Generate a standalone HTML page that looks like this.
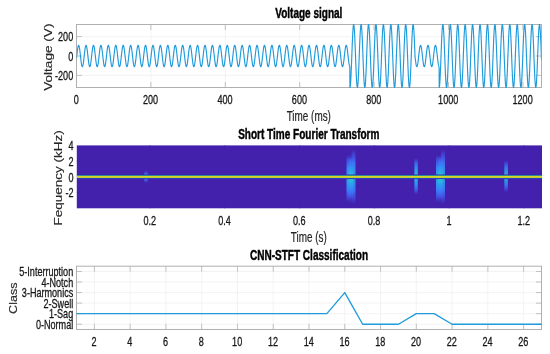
<!DOCTYPE html>
<html><head><meta charset="utf-8"><title>Voltage signal</title>
<style>html,body{margin:0;padding:0;background:#fff;overflow:hidden}svg{display:block}</style></head>
<body>
<svg width="550" height="354" viewBox="0 0 550 354" font-family="'Liberation Sans', sans-serif">
<rect width="550" height="354" fill="#fff"/>
<rect x="76.5" y="24.5" width="465.0" height="63.0" fill="#fff"/>
<line x1="76.50" y1="24.5" x2="76.50" y2="87.5" stroke="#f0f0f0" stroke-width="0.8"/>
<line x1="150.90" y1="24.5" x2="150.90" y2="87.5" stroke="#f0f0f0" stroke-width="0.8"/>
<line x1="225.30" y1="24.5" x2="225.30" y2="87.5" stroke="#f0f0f0" stroke-width="0.8"/>
<line x1="299.70" y1="24.5" x2="299.70" y2="87.5" stroke="#f0f0f0" stroke-width="0.8"/>
<line x1="374.10" y1="24.5" x2="374.10" y2="87.5" stroke="#f0f0f0" stroke-width="0.8"/>
<line x1="448.50" y1="24.5" x2="448.50" y2="87.5" stroke="#f0f0f0" stroke-width="0.8"/>
<line x1="522.90" y1="24.5" x2="522.90" y2="87.5" stroke="#f0f0f0" stroke-width="0.8"/>
<line x1="76.5" y1="75.38" x2="541.5" y2="75.38" stroke="#f0f0f0" stroke-width="0.8"/>
<line x1="76.5" y1="56.00" x2="541.5" y2="56.00" stroke="#f0f0f0" stroke-width="0.8"/>
<line x1="76.5" y1="36.62" x2="541.5" y2="36.62" stroke="#f0f0f0" stroke-width="0.8"/>
<line x1="76.50" y1="87.5" x2="76.50" y2="82.0" stroke="#b0b0b0" stroke-width="0.75"/>
<line x1="76.50" y1="24.5" x2="76.50" y2="30.0" stroke="#b0b0b0" stroke-width="0.75"/>
<line x1="150.90" y1="87.5" x2="150.90" y2="82.0" stroke="#b0b0b0" stroke-width="0.75"/>
<line x1="150.90" y1="24.5" x2="150.90" y2="30.0" stroke="#b0b0b0" stroke-width="0.75"/>
<line x1="225.30" y1="87.5" x2="225.30" y2="82.0" stroke="#b0b0b0" stroke-width="0.75"/>
<line x1="225.30" y1="24.5" x2="225.30" y2="30.0" stroke="#b0b0b0" stroke-width="0.75"/>
<line x1="299.70" y1="87.5" x2="299.70" y2="82.0" stroke="#b0b0b0" stroke-width="0.75"/>
<line x1="299.70" y1="24.5" x2="299.70" y2="30.0" stroke="#b0b0b0" stroke-width="0.75"/>
<line x1="374.10" y1="87.5" x2="374.10" y2="82.0" stroke="#b0b0b0" stroke-width="0.75"/>
<line x1="374.10" y1="24.5" x2="374.10" y2="30.0" stroke="#b0b0b0" stroke-width="0.75"/>
<line x1="448.50" y1="87.5" x2="448.50" y2="82.0" stroke="#b0b0b0" stroke-width="0.75"/>
<line x1="448.50" y1="24.5" x2="448.50" y2="30.0" stroke="#b0b0b0" stroke-width="0.75"/>
<line x1="522.90" y1="87.5" x2="522.90" y2="82.0" stroke="#b0b0b0" stroke-width="0.75"/>
<line x1="522.90" y1="24.5" x2="522.90" y2="30.0" stroke="#b0b0b0" stroke-width="0.75"/>
<line x1="76.5" y1="75.38" x2="82.0" y2="75.38" stroke="#b0b0b0" stroke-width="0.75"/>
<line x1="541.5" y1="75.38" x2="536.0" y2="75.38" stroke="#b0b0b0" stroke-width="0.75"/>
<line x1="76.5" y1="56.00" x2="82.0" y2="56.00" stroke="#b0b0b0" stroke-width="0.75"/>
<line x1="541.5" y1="56.00" x2="536.0" y2="56.00" stroke="#b0b0b0" stroke-width="0.75"/>
<line x1="76.5" y1="36.62" x2="82.0" y2="36.62" stroke="#b0b0b0" stroke-width="0.75"/>
<line x1="541.5" y1="36.62" x2="536.0" y2="36.62" stroke="#b0b0b0" stroke-width="0.75"/>
<rect x="76.5" y="24.5" width="465.0" height="63.0" fill="none" stroke="#b0b0b0" stroke-width="1"/>
<clipPath id="c1"><rect x="76.5" y="24.0" width="465.0" height="64.0"/></clipPath>
<polyline clip-path="url(#c1)" points="76.50,58.33 76.59,57.50 76.69,56.67 76.78,55.83 76.87,55.00 76.97,54.17 77.06,53.35 77.15,52.54 77.24,51.76 77.34,51.01 77.43,50.28 77.52,49.59 77.62,48.94 77.71,48.34 77.80,47.78 77.89,47.27 77.99,46.82 78.08,46.42 78.17,46.08 78.27,45.81 78.36,45.59 78.45,45.44 78.55,45.36 78.64,45.34 78.73,45.39 78.83,45.50 78.92,45.68 79.01,45.92 79.10,46.22 79.20,46.59 79.29,47.01 79.38,47.49 79.48,48.02 79.57,48.60 79.66,49.22 79.75,49.89 79.85,50.59 79.94,51.33 80.03,52.10 80.13,52.89 80.22,53.70 80.31,54.52 80.41,55.36 80.50,56.20 80.59,57.03 80.69,57.86 80.78,58.68 80.87,59.48 80.96,60.26 81.06,61.02 81.15,61.74 81.24,62.43 81.34,63.08 81.43,63.68 81.52,64.24 81.61,64.74 81.71,65.20 81.80,65.59 81.89,65.93 81.99,66.20 82.08,66.41 82.17,66.56 82.27,66.64 82.36,66.66 82.45,66.61 82.55,66.50 82.64,66.32 82.73,66.07 82.82,65.77 82.92,65.40 83.01,64.98 83.10,64.50 83.20,63.96 83.29,63.38 83.38,62.76 83.47,62.09 83.57,61.38 83.66,60.64 83.75,59.87 83.85,59.08 83.94,58.27 84.03,57.45 84.13,56.61 84.22,55.78 84.31,54.94 84.41,54.11 84.50,53.29 84.59,52.49 84.68,51.71 84.78,50.96 84.87,50.23 84.96,49.55 85.06,48.90 85.15,48.30 85.24,47.74 85.33,47.24 85.43,46.79 85.52,46.40 85.61,46.06 85.71,45.79 85.80,45.58 85.89,45.44 85.99,45.36 86.08,45.34 86.17,45.39 86.27,45.51 86.36,45.69 86.45,45.94 86.54,46.25 86.64,46.61 86.73,47.04 86.82,47.52 86.92,48.05 87.01,48.64 87.10,49.27 87.19,49.94 87.29,50.64 87.38,51.38 87.47,52.15 87.57,52.94 87.66,53.76 87.75,54.58 87.85,55.42 87.94,56.25 88.03,57.09 88.12,57.92 88.22,58.74 88.31,59.54 88.40,60.32 88.50,61.07 88.59,61.79 88.68,62.47 88.78,63.12 88.87,63.72 88.96,64.27 89.06,64.78 89.15,65.22 89.24,65.62 89.33,65.95 89.43,66.22 89.52,66.43 89.61,66.57 89.71,66.65 89.80,66.66 89.89,66.60 89.98,66.48 90.08,66.30 90.17,66.05 90.26,65.74 90.36,65.37 90.45,64.95 90.54,64.46 90.64,63.93 90.73,63.34 90.82,62.71 90.91,62.04 91.01,61.33 91.10,60.59 91.19,59.82 91.29,59.03 91.38,58.22 91.47,57.39 91.57,56.56 91.66,55.72 91.75,54.88 91.84,54.05 91.94,53.24 92.03,52.44 92.12,51.66 92.22,50.91 92.31,50.19 92.40,49.50 92.50,48.86 92.59,48.26 92.68,47.71 92.78,47.21 92.87,46.76 92.96,46.37 93.05,46.04 93.15,45.77 93.24,45.57 93.33,45.43 93.43,45.35 93.52,45.34 93.61,45.40 93.70,45.52 93.80,45.71 93.89,45.96 93.98,46.27 94.08,46.64 94.17,47.07 94.26,47.56 94.36,48.09 94.45,48.68 94.54,49.31 94.64,49.98 94.73,50.69 94.82,51.43 94.91,52.20 95.01,53.00 95.10,53.81 95.19,54.64 95.29,55.47 95.38,56.31 95.47,57.15 95.56,57.97 95.66,58.79 95.75,59.59 95.84,60.37 95.94,61.12 96.03,61.84 96.12,62.52 96.22,63.16 96.31,63.76 96.40,64.31 96.50,64.81 96.59,65.25 96.68,65.64 96.77,65.97 96.87,66.23 96.96,66.44 97.05,66.58 97.15,66.65 97.24,66.66 97.33,66.60 97.42,66.47 97.52,66.29 97.61,66.03 97.70,65.72 97.80,65.35 97.89,64.91 97.98,64.43 98.08,63.89 98.17,63.30 98.26,62.67 98.36,61.99 98.45,61.28 98.54,60.54 98.63,59.77 98.73,58.97 98.82,58.16 98.91,57.33 99.01,56.50 99.10,55.66 99.19,54.83 99.28,54.00 99.38,53.18 99.47,52.38 99.56,51.61 99.66,50.86 99.75,50.14 99.84,49.46 99.94,48.82 100.03,48.22 100.12,47.67 100.22,47.18 100.31,46.73 100.40,46.35 100.49,46.02 100.59,45.76 100.68,45.56 100.77,45.42 100.87,45.35 100.96,45.34 101.05,45.40 101.14,45.53 101.24,45.72 101.33,45.98 101.42,46.29 101.52,46.67 101.61,47.10 101.70,47.59 101.80,48.13 101.89,48.72 101.98,49.35 102.08,50.03 102.17,50.74 102.26,51.49 102.35,52.26 102.45,53.05 102.54,53.87 102.63,54.69 102.73,55.53 102.82,56.37 102.91,57.20 103.00,58.03 103.10,58.85 103.19,59.64 103.28,60.42 103.38,61.17 103.47,61.88 103.56,62.56 103.66,63.20 103.75,63.80 103.84,64.35 103.94,64.84 104.03,65.28 104.12,65.66 104.21,65.99 104.31,66.25 104.40,66.45 104.49,66.58 104.59,66.65 104.68,66.65 104.77,66.59 104.86,66.46 104.96,66.27 105.05,66.01 105.14,65.70 105.24,65.32 105.33,64.88 105.42,64.39 105.52,63.85 105.61,63.26 105.70,62.62 105.80,61.95 105.89,61.23 105.98,60.49 106.07,59.72 106.17,58.92 106.26,58.10 106.35,57.28 106.45,56.44 106.54,55.60 106.63,54.77 106.72,53.94 106.82,53.13 106.91,52.33 107.00,51.55 107.10,50.81 107.19,50.09 107.28,49.41 107.38,48.78 107.47,48.18 107.56,47.64 107.66,47.14 107.75,46.70 107.84,46.32 107.93,46.00 108.03,45.74 108.12,45.55 108.21,45.41 108.31,45.35 108.40,45.35 108.49,45.41 108.59,45.54 108.68,45.74 108.77,46.00 108.86,46.32 108.96,46.70 109.05,47.13 109.14,47.63 109.24,48.17 109.33,48.76 109.42,49.40 109.52,50.08 109.61,50.79 109.70,51.54 109.79,52.31 109.89,53.11 109.98,53.92 110.07,54.75 110.17,55.59 110.26,56.42 110.35,57.26 110.44,58.09 110.54,58.90 110.63,59.70 110.72,60.47 110.82,61.22 110.91,61.93 111.00,62.61 111.10,63.25 111.19,63.84 111.28,64.38 111.38,64.87 111.47,65.31 111.56,65.69 111.65,66.01 111.75,66.27 111.84,66.46 111.93,66.59 112.03,66.65 112.12,66.65 112.21,66.59 112.31,66.45 112.40,66.26 112.49,65.99 112.58,65.67 112.68,65.29 112.77,64.85 112.86,64.36 112.96,63.81 113.05,63.22 113.14,62.58 113.23,61.90 113.33,61.18 113.42,60.44 113.51,59.66 113.61,58.86 113.70,58.05 113.79,57.22 113.89,56.39 113.98,55.55 114.07,54.71 114.16,53.89 114.26,53.07 114.35,52.28 114.44,51.50 114.54,50.76 114.63,50.04 114.72,49.37 114.82,48.73 114.91,48.14 115.00,47.60 115.09,47.11 115.19,46.68 115.28,46.30 115.37,45.98 115.47,45.73 115.56,45.53 115.65,45.41 115.75,45.34 115.84,45.35 115.93,45.42 116.03,45.55 116.12,45.75 116.21,46.02 116.30,46.34 116.40,46.72 116.49,47.16 116.58,47.66 116.68,48.21 116.77,48.80 116.86,49.44 116.95,50.12 117.05,50.84 117.14,51.59 117.23,52.37 117.33,53.16 117.42,53.98 117.51,54.81 117.61,55.64 117.70,56.48 117.79,57.32 117.88,58.14 117.98,58.96 118.07,59.75 118.16,60.52 118.26,61.27 118.35,61.98 118.44,62.65 118.54,63.29 118.63,63.88 118.72,64.42 118.81,64.90 118.91,65.34 119.00,65.71 119.09,66.03 119.19,66.28 119.28,66.47 119.37,66.60 119.47,66.66 119.56,66.65 119.65,66.58 119.75,66.44 119.84,66.24 119.93,65.97 120.02,65.65 120.12,65.26 120.21,64.82 120.30,64.32 120.40,63.77 120.49,63.18 120.58,62.53 120.67,61.85 120.77,61.13 120.86,60.38 120.95,59.61 121.05,58.81 121.14,57.99 121.23,57.16 121.33,56.33 121.42,55.49 121.51,54.66 121.61,53.83 121.70,53.02 121.79,52.22 121.88,51.45 121.98,50.71 122.07,50.00 122.16,49.32 122.26,48.69 122.35,48.10 122.44,47.57 122.53,47.08 122.63,46.65 122.72,46.28 122.81,45.96 122.91,45.71 123.00,45.52 123.09,45.40 123.19,45.34 123.28,45.35 123.37,45.43 123.47,45.56 123.56,45.77 123.65,46.04 123.74,46.36 123.84,46.75 123.93,47.20 124.02,47.70 124.12,48.25 124.21,48.85 124.30,49.49 124.39,50.17 124.49,50.89 124.58,51.64 124.67,52.42 124.77,53.22 124.86,54.04 124.95,54.86 125.05,55.70 125.14,56.54 125.23,57.37 125.32,58.20 125.42,59.01 125.51,59.80 125.60,60.57 125.70,61.32 125.79,62.03 125.88,62.70 125.98,63.33 126.07,63.91 126.16,64.45 126.25,64.94 126.35,65.36 126.44,65.74 126.53,66.05 126.63,66.30 126.72,66.48 126.81,66.60 126.91,66.66 127.00,66.65 127.09,66.57 127.19,66.43 127.28,66.22 127.37,65.95 127.46,65.62 127.56,65.23 127.65,64.79 127.74,64.29 127.84,63.73 127.93,63.13 128.02,62.49 128.12,61.80 128.21,61.08 128.30,60.33 128.39,59.55 128.49,58.75 128.58,57.94 128.67,57.11 128.77,56.27 128.86,55.43 128.95,54.60 129.05,53.77 129.14,52.96 129.23,52.17 129.32,51.40 129.42,50.66 129.51,49.95 129.60,49.28 129.70,48.65 129.79,48.07 129.88,47.53 129.97,47.05 130.07,46.62 130.16,46.25 130.25,45.94 130.35,45.70 130.44,45.51 130.53,45.39 130.63,45.34 130.72,45.35 130.81,45.43 130.91,45.58 131.00,45.78 131.09,46.06 131.18,46.39 131.28,46.78 131.37,47.23 131.46,47.73 131.56,48.29 131.65,48.89 131.74,49.53 131.84,50.22 131.93,50.94 132.02,51.69 132.11,52.47 132.21,53.27 132.30,54.09 132.39,54.92 132.49,55.76 132.58,56.59 132.67,57.43 132.76,58.25 132.86,59.07 132.95,59.86 133.04,60.63 133.14,61.37 133.23,62.07 133.32,62.74 133.42,63.37 133.51,63.95 133.60,64.49 133.69,64.97 133.79,65.39 133.88,65.76 133.97,66.07 134.07,66.31 134.16,66.49 134.25,66.61 134.35,66.66 134.44,66.64 134.53,66.56 134.62,66.42 134.72,66.21 134.81,65.93 134.90,65.60 135.00,65.21 135.09,64.75 135.18,64.25 135.28,63.69 135.37,63.09 135.46,62.44 135.56,61.76 135.65,61.03 135.74,60.28 135.83,59.50 135.93,58.70 136.02,57.88 136.11,57.05 136.21,56.21 136.30,55.38 136.39,54.54 136.49,53.72 136.58,52.91 136.67,52.12 136.76,51.35 136.86,50.61 136.95,49.90 137.04,49.24 137.14,48.61 137.23,48.03 137.32,47.50 137.41,47.02 137.51,46.60 137.60,46.23 137.69,45.92 137.79,45.68 137.88,45.50 137.97,45.39 138.07,45.34 138.16,45.36 138.25,45.44 138.34,45.59 138.44,45.80 138.53,46.08 138.62,46.41 138.72,46.81 138.81,47.26 138.90,47.77 139.00,48.33 139.09,48.93 139.18,49.58 139.28,50.27 139.37,50.99 139.46,51.75 139.55,52.53 139.65,53.33 139.74,54.15 139.83,54.98 139.93,55.81 140.02,56.65 140.11,57.49 140.21,58.31 140.30,59.12 140.39,59.91 140.48,60.68 140.58,61.42 140.67,62.12 140.76,62.79 140.86,63.41 140.95,63.99 141.04,64.52 141.13,65.00 141.23,65.42 141.32,65.78 141.41,66.08 141.51,66.32 141.60,66.50 141.69,66.61 141.79,66.66 141.88,66.64 141.97,66.56 142.06,66.41 142.16,66.19 142.25,65.91 142.34,65.57 142.44,65.18 142.53,64.72 142.62,64.21 142.72,63.65 142.81,63.05 142.90,62.40 143.00,61.71 143.09,60.98 143.18,60.23 143.27,59.45 143.37,58.64 143.46,57.82 143.55,56.99 143.65,56.16 143.74,55.32 143.83,54.49 143.93,53.66 144.02,52.85 144.11,52.06 144.20,51.30 144.30,50.56 144.39,49.86 144.48,49.19 144.58,48.57 144.67,47.99 144.76,47.46 144.85,46.99 144.95,46.57 145.04,46.21 145.13,45.91 145.23,45.67 145.32,45.49 145.41,45.38 145.51,45.34 145.60,45.36 145.69,45.45 145.78,45.60 145.88,45.82 145.97,46.10 146.06,46.44 146.16,46.84 146.25,47.29 146.34,47.80 146.44,48.37 146.53,48.97 146.62,49.62 146.72,50.32 146.81,51.04 146.90,51.80 146.99,52.58 147.09,53.38 147.18,54.20 147.27,55.03 147.37,55.87 147.46,56.71 147.55,57.54 147.64,58.37 147.74,59.17 147.83,59.96 147.92,60.73 148.02,61.46 148.11,62.17 148.20,62.83 148.30,63.45 148.39,64.03 148.48,64.55 148.57,65.03 148.67,65.44 148.76,65.80 148.85,66.10 148.95,66.34 149.04,66.51 149.13,66.62 149.23,66.66 149.32,66.64 149.41,66.55 149.50,66.39 149.60,66.17 149.69,65.89 149.78,65.55 149.88,65.15 149.97,64.69 150.06,64.18 150.16,63.61 150.25,63.01 150.34,62.35 150.44,61.66 150.53,60.93 150.62,60.18 150.71,59.39 150.81,58.59 150.90,57.77 150.99,56.94 151.09,56.10 151.18,55.26 151.27,54.43 151.37,53.61 151.46,52.80 151.55,52.01 151.64,51.25 151.74,50.51 151.83,49.81 151.92,49.15 152.02,48.53 152.11,47.95 152.20,47.43 152.30,46.96 152.39,46.54 152.48,46.18 152.57,45.89 152.67,45.65 152.76,45.48 152.85,45.38 152.95,45.34 153.04,45.36 153.13,45.46 153.23,45.61 153.32,45.83 153.41,46.12 153.50,46.46 153.60,46.87 153.69,47.33 153.78,47.84 153.88,48.41 153.97,49.02 154.06,49.67 154.16,50.36 154.25,51.09 154.34,51.85 154.43,52.63 154.53,53.44 154.62,54.26 154.71,55.09 154.81,55.93 154.90,56.77 154.99,57.60 155.09,58.42 155.18,59.23 155.27,60.02 155.36,60.78 155.46,61.51 155.55,62.21 155.64,62.87 155.74,63.49 155.83,64.07 155.92,64.59 156.01,65.06 156.11,65.47 156.20,65.83 156.29,66.12 156.39,66.35 156.48,66.52 156.57,66.62 156.67,66.66 156.76,66.63 156.85,66.54 156.94,66.38 157.04,66.16 157.13,65.87 157.22,65.52 157.32,65.12 157.41,64.66 157.50,64.14 157.60,63.57 157.69,62.96 157.78,62.31 157.88,61.61 157.97,60.88 158.06,60.12 158.15,59.34 158.25,58.53 158.34,57.71 158.43,56.88 158.53,56.04 158.62,55.21 158.71,54.37 158.81,53.55 158.90,52.74 158.99,51.96 159.08,51.19 159.18,50.46 159.27,49.76 159.36,49.10 159.46,48.49 159.55,47.92 159.64,47.40 159.74,46.93 159.83,46.52 159.92,46.16 160.01,45.87 160.11,45.64 160.20,45.47 160.29,45.37 160.39,45.34 160.48,45.37 160.57,45.47 160.66,45.63 160.76,45.85 160.85,46.14 160.94,46.49 161.04,46.90 161.13,47.36 161.22,47.88 161.32,48.45 161.41,49.06 161.50,49.72 161.59,50.41 161.69,51.14 161.78,51.90 161.87,52.69 161.97,53.49 162.06,54.32 162.15,55.15 162.25,55.98 162.34,56.82 162.43,57.65 162.53,58.48 162.62,59.28 162.71,60.07 162.80,60.83 162.90,61.56 162.99,62.26 163.08,62.92 163.18,63.53 163.27,64.10 163.36,64.62 163.45,65.09 163.55,65.50 163.64,65.85 163.73,66.14 163.83,66.37 163.92,66.53 164.01,66.63 164.11,66.66 164.20,66.63 164.29,66.53 164.38,66.37 164.48,66.14 164.57,65.85 164.66,65.50 164.76,65.09 164.85,64.62 164.94,64.10 165.04,63.53 165.13,62.92 165.22,62.26 165.31,61.56 165.41,60.83 165.50,60.07 165.59,59.28 165.69,58.48 165.78,57.66 165.87,56.82 165.97,55.99 166.06,55.15 166.15,54.32 166.25,53.50 166.34,52.69 166.43,51.90 166.52,51.14 166.62,50.41 166.71,49.72 166.80,49.06 166.90,48.45 166.99,47.88 167.08,47.36 167.18,46.90 167.27,46.49 167.36,46.14 167.45,45.85 167.55,45.63 167.64,45.47 167.73,45.37 167.83,45.34 167.92,45.37 168.01,45.47 168.11,45.64 168.20,45.87 168.29,46.16 168.38,46.52 168.48,46.93 168.57,47.39 168.66,47.92 168.76,48.49 168.85,49.10 168.94,49.76 169.04,50.46 169.13,51.19 169.22,51.96 169.31,52.74 169.41,53.55 169.50,54.37 169.59,55.20 169.69,56.04 169.78,56.88 169.87,57.71 169.97,58.53 170.06,59.34 170.15,60.12 170.24,60.88 170.34,61.61 170.43,62.31 170.52,62.96 170.62,63.57 170.71,64.14 170.80,64.65 170.90,65.12 170.99,65.52 171.08,65.87 171.17,66.16 171.27,66.38 171.36,66.54 171.45,66.63 171.55,66.66 171.64,66.62 171.73,66.52 171.82,66.35 171.92,66.12 172.01,65.83 172.10,65.47 172.20,65.06 172.29,64.59 172.38,64.07 172.48,63.49 172.57,62.88 172.66,62.21 172.75,61.51 172.85,60.78 172.94,60.02 173.03,59.23 173.13,58.42 173.22,57.60 173.31,56.77 173.41,55.93 173.50,55.09 173.59,54.26 173.69,53.44 173.78,52.64 173.87,51.85 173.96,51.09 174.06,50.37 174.15,49.67 174.24,49.02 174.34,48.41 174.43,47.84 174.52,47.33 174.62,46.87 174.71,46.46 174.80,46.12 174.89,45.84 174.99,45.61 175.08,45.46 175.17,45.37 175.27,45.34 175.36,45.38 175.45,45.48 175.55,45.65 175.64,45.89 175.73,46.18 175.82,46.54 175.92,46.96 176.01,47.43 176.10,47.95 176.20,48.53 176.29,49.15 176.38,49.81 176.47,50.51 176.57,51.24 176.66,52.01 176.75,52.80 176.85,53.61 176.94,54.43 177.03,55.26 177.13,56.10 177.22,56.94 177.31,57.77 177.41,58.59 177.50,59.39 177.59,60.17 177.68,60.93 177.78,61.66 177.87,62.35 177.96,63.00 178.06,63.61 178.15,64.18 178.24,64.69 178.33,65.15 178.43,65.55 178.52,65.89 178.61,66.17 178.71,66.39 178.80,66.55 178.89,66.64 178.99,66.66 179.08,66.62 179.17,66.51 179.26,66.34 179.36,66.10 179.45,65.80 179.54,65.45 179.64,65.03 179.73,64.55 179.82,64.03 179.92,63.45 180.01,62.83 180.10,62.17 180.19,61.47 180.29,60.73 180.38,59.97 180.47,59.18 180.57,58.37 180.66,57.54 180.75,56.71 180.85,55.87 180.94,55.04 181.03,54.21 181.12,53.39 181.22,52.58 181.31,51.80 181.40,51.04 181.50,50.32 181.59,49.63 181.68,48.97 181.78,48.37 181.87,47.81 181.96,47.30 182.06,46.84 182.15,46.44 182.24,46.10 182.33,45.82 182.43,45.60 182.52,45.45 182.61,45.36 182.71,45.34 182.80,45.38 182.89,45.49 182.99,45.67 183.08,45.91 183.17,46.21 183.26,46.57 183.36,46.99 183.45,47.46 183.54,47.99 183.64,48.57 183.73,49.19 183.82,49.86 183.92,50.56 184.01,51.30 184.10,52.06 184.19,52.85 184.29,53.66 184.38,54.48 184.47,55.32 184.57,56.16 184.66,56.99 184.75,57.82 184.84,58.64 184.94,59.45 185.03,60.23 185.12,60.98 185.22,61.71 185.31,62.40 185.40,63.05 185.50,63.65 185.59,64.21 185.68,64.72 185.77,65.18 185.87,65.57 185.96,65.91 186.05,66.19 186.15,66.40 186.24,66.56 186.33,66.64 186.43,66.66 186.52,66.61 186.61,66.50 186.70,66.33 186.80,66.08 186.89,65.78 186.98,65.42 187.08,65.00 187.17,64.52 187.26,63.99 187.36,63.41 187.45,62.79 187.54,62.12 187.63,61.42 187.73,60.68 187.82,59.91 187.91,59.12 188.01,58.31 188.10,57.49 188.19,56.65 188.29,55.82 188.38,54.98 188.47,54.15 188.56,53.33 188.66,52.53 188.75,51.75 188.84,50.99 188.94,50.27 189.03,49.58 189.12,48.93 189.22,48.33 189.31,47.77 189.40,47.26 189.50,46.81 189.59,46.41 189.68,46.08 189.77,45.80 189.87,45.59 189.96,45.44 190.05,45.36 190.15,45.34 190.24,45.39 190.33,45.50 190.43,45.68 190.52,45.92 190.61,46.23 190.70,46.59 190.80,47.02 190.89,47.50 190.98,48.03 191.08,48.61 191.17,49.23 191.26,49.90 191.36,50.61 191.45,51.35 191.54,52.11 191.63,52.91 191.73,53.72 191.82,54.54 191.91,55.38 192.01,56.21 192.10,57.05 192.19,57.88 192.28,58.70 192.38,59.50 192.47,60.28 192.56,61.03 192.66,61.76 192.75,62.44 192.84,63.09 192.94,63.69 193.03,64.25 193.12,64.75 193.22,65.20 193.31,65.60 193.40,65.93 193.49,66.21 193.59,66.42 193.68,66.56 193.77,66.64 193.87,66.66 193.96,66.61 194.05,66.49 194.14,66.31 194.24,66.07 194.33,65.76 194.42,65.39 194.52,64.97 194.61,64.49 194.70,63.95 194.80,63.37 194.89,62.74 194.98,62.07 195.07,61.37 195.17,60.63 195.26,59.86 195.35,59.07 195.45,58.26 195.54,57.43 195.63,56.60 195.73,55.76 195.82,54.92 195.91,54.09 196.00,53.28 196.10,52.47 196.19,51.69 196.28,50.94 196.38,50.22 196.47,49.54 196.56,48.89 196.66,48.29 196.75,47.73 196.84,47.23 196.94,46.78 197.03,46.39 197.12,46.06 197.21,45.79 197.31,45.58 197.40,45.43 197.49,45.35 197.59,45.34 197.68,45.39 197.77,45.51 197.87,45.70 197.96,45.94 198.05,46.25 198.14,46.62 198.24,47.05 198.33,47.53 198.42,48.07 198.52,48.65 198.61,49.28 198.70,49.95 198.80,50.66 198.89,51.40 198.98,52.17 199.07,52.96 199.17,53.77 199.26,54.60 199.35,55.43 199.45,56.27 199.54,57.11 199.63,57.94 199.73,58.75 199.82,59.55 199.91,60.33 200.00,61.08 200.10,61.80 200.19,62.49 200.28,63.13 200.38,63.73 200.47,64.28 200.56,64.79 200.66,65.23 200.75,65.62 200.84,65.95 200.93,66.22 201.03,66.43 201.12,66.57 201.21,66.65 201.31,66.66 201.40,66.60 201.49,66.48 201.59,66.30 201.68,66.05 201.77,65.74 201.86,65.37 201.96,64.94 202.05,64.45 202.14,63.92 202.24,63.33 202.33,62.70 202.42,62.03 202.52,61.32 202.61,60.58 202.70,59.81 202.79,59.01 202.89,58.20 202.98,57.37 203.07,56.54 203.17,55.70 203.26,54.87 203.35,54.04 203.44,53.22 203.54,52.42 203.63,51.64 203.72,50.89 203.82,50.17 203.91,49.49 204.00,48.85 204.10,48.25 204.19,47.70 204.28,47.20 204.38,46.75 204.47,46.36 204.56,46.04 204.65,45.77 204.75,45.56 204.84,45.43 204.93,45.35 205.03,45.34 205.12,45.40 205.21,45.52 205.31,45.71 205.40,45.96 205.49,46.28 205.58,46.65 205.68,47.08 205.77,47.57 205.86,48.10 205.96,48.69 206.05,49.32 206.14,50.00 206.24,50.71 206.33,51.45 206.42,52.22 206.51,53.02 206.61,53.83 206.70,54.65 206.79,55.49 206.89,56.33 206.98,57.16 207.07,57.99 207.17,58.81 207.26,59.61 207.35,60.38 207.44,61.13 207.54,61.85 207.63,62.53 207.72,63.17 207.82,63.77 207.91,64.32 208.00,64.82 208.09,65.26 208.19,65.65 208.28,65.97 208.37,66.24 208.47,66.44 208.56,66.58 208.65,66.65 208.75,66.66 208.84,66.60 208.93,66.47 209.02,66.28 209.12,66.03 209.21,65.71 209.30,65.34 209.40,64.90 209.49,64.42 209.58,63.88 209.68,63.29 209.77,62.66 209.86,61.98 209.95,61.27 210.05,60.52 210.14,59.75 210.23,58.96 210.33,58.14 210.42,57.32 210.51,56.48 210.61,55.64 210.70,54.81 210.79,53.98 210.88,53.16 210.98,52.37 211.07,51.59 211.16,50.84 211.26,50.13 211.35,49.44 211.44,48.80 211.54,48.21 211.63,47.66 211.72,47.17 211.81,46.72 211.91,46.34 212.00,46.02 212.09,45.75 212.19,45.55 212.28,45.42 212.37,45.35 212.47,45.34 212.56,45.41 212.65,45.53 212.75,45.73 212.84,45.98 212.93,46.30 213.02,46.68 213.12,47.11 213.21,47.60 213.30,48.14 213.40,48.73 213.49,49.37 213.58,50.04 213.67,50.76 213.77,51.50 213.86,52.27 213.95,53.07 214.05,53.88 214.14,54.71 214.23,55.55 214.33,56.38 214.42,57.22 214.51,58.05 214.60,58.86 214.70,59.66 214.79,60.44 214.88,61.18 214.98,61.90 215.07,62.58 215.16,63.22 215.26,63.81 215.35,64.36 215.44,64.85 215.53,65.29 215.63,65.67 215.72,65.99 215.81,66.25 215.91,66.45 216.00,66.59 216.09,66.65 216.19,66.65 216.28,66.59 216.37,66.46 216.47,66.27 216.56,66.01 216.65,65.69 216.74,65.31 216.84,64.87 216.93,64.38 217.02,63.84 217.12,63.25 217.21,62.61 217.30,61.93 217.40,61.22 217.49,60.47 217.58,59.70 217.67,58.90 217.77,58.09 217.86,57.26 217.95,56.43 218.05,55.59 218.14,54.75 218.23,53.92 218.32,53.11 218.42,52.31 218.51,51.54 218.60,50.79 218.70,50.08 218.79,49.40 218.88,48.76 218.98,48.17 219.07,47.63 219.16,47.13 219.25,46.70 219.35,46.32 219.44,46.00 219.53,45.74 219.63,45.54 219.72,45.41 219.81,45.35 219.91,45.35 220.00,45.41 220.09,45.55 220.19,45.74 220.28,46.00 220.37,46.32 220.46,46.70 220.56,47.14 220.65,47.64 220.74,48.18 220.84,48.77 220.93,49.41 221.02,50.09 221.12,50.81 221.21,51.55 221.30,52.33 221.39,53.12 221.49,53.94 221.58,54.77 221.67,55.60 221.77,56.44 221.86,57.28 221.95,58.10 222.04,58.92 222.14,59.71 222.23,60.49 222.32,61.23 222.42,61.95 222.51,62.62 222.60,63.26 222.70,63.85 222.79,64.39 222.88,64.88 222.97,65.32 223.07,65.70 223.16,66.01 223.25,66.27 223.35,66.46 223.44,66.59 223.53,66.65 223.63,66.65 223.72,66.58 223.81,66.45 223.91,66.25 224.00,65.99 224.09,65.67 224.18,65.28 224.28,64.84 224.37,64.35 224.46,63.80 224.56,63.21 224.65,62.57 224.74,61.89 224.84,61.17 224.93,60.42 225.02,59.65 225.11,58.85 225.21,58.03 225.30,57.20 225.39,56.37 225.49,55.53 225.58,54.70 225.67,53.87 225.77,53.06 225.86,52.26 225.95,51.49 226.04,50.74 226.14,50.03 226.23,49.36 226.32,48.72 226.42,48.13 226.51,47.59 226.60,47.10 226.69,46.67 226.79,46.29 226.88,45.98 226.97,45.72 227.07,45.53 227.16,45.41 227.25,45.34 227.35,45.35 227.44,45.42 227.53,45.56 227.62,45.76 227.72,46.02 227.81,46.35 227.90,46.73 228.00,47.17 228.09,47.67 228.18,48.22 228.28,48.82 228.37,49.46 228.46,50.14 228.56,50.86 228.65,51.60 228.74,52.38 228.83,53.18 228.93,54.00 229.02,54.82 229.11,55.66 229.21,56.50 229.30,57.33 229.39,58.16 229.49,58.97 229.58,59.77 229.67,60.54 229.76,61.28 229.86,61.99 229.95,62.67 230.04,63.30 230.14,63.89 230.23,64.43 230.32,64.91 230.42,65.35 230.51,65.72 230.60,66.03 230.69,66.29 230.79,66.47 230.88,66.60 230.97,66.66 231.07,66.65 231.16,66.58 231.25,66.44 231.34,66.23 231.44,65.97 231.53,65.64 231.62,65.25 231.72,64.81 231.81,64.31 231.90,63.76 232.00,63.16 232.09,62.52 232.18,61.84 232.28,61.12 232.37,60.37 232.46,59.59 232.55,58.79 232.65,57.98 232.74,57.15 232.83,56.31 232.93,55.47 233.02,54.64 233.11,53.81 233.21,53.00 233.30,52.21 233.39,51.44 233.48,50.69 233.58,49.98 233.67,49.31 233.76,48.68 233.86,48.09 233.95,47.56 234.04,47.07 234.14,46.64 234.23,46.27 234.32,45.96 234.41,45.71 234.51,45.52 234.60,45.40 234.69,45.34 234.79,45.35 234.88,45.43 234.97,45.57 235.06,45.77 235.16,46.04 235.25,46.37 235.34,46.76 235.44,47.21 235.53,47.71 235.62,48.26 235.72,48.86 235.81,49.50 235.90,50.19 236.00,50.91 236.09,51.66 236.18,52.43 236.27,53.23 236.37,54.05 236.46,54.88 236.55,55.72 236.65,56.55 236.74,57.39 236.83,58.21 236.92,59.03 237.02,59.82 237.11,60.59 237.20,61.33 237.30,62.04 237.39,62.71 237.48,63.34 237.58,63.93 237.67,64.46 237.76,64.94 237.85,65.37 237.95,65.74 238.04,66.05 238.13,66.30 238.23,66.48 238.32,66.60 238.41,66.66 238.51,66.65 238.60,66.57 238.69,66.43 238.78,66.22 238.88,65.95 238.97,65.62 239.06,65.23 239.16,64.78 239.25,64.28 239.34,63.72 239.44,63.12 239.53,62.48 239.62,61.79 239.72,61.07 239.81,60.32 239.90,59.54 239.99,58.74 240.09,57.92 240.18,57.09 240.27,56.25 240.37,55.42 240.46,54.58 240.55,53.76 240.64,52.95 240.74,52.15 240.83,51.38 240.92,50.64 241.02,49.94 241.11,49.27 241.20,48.64 241.30,48.06 241.39,47.52 241.48,47.04 241.57,46.61 241.67,46.25 241.76,45.94 241.85,45.69 241.95,45.51 242.04,45.39 242.13,45.34 242.23,45.36 242.32,45.43 242.41,45.58 242.50,45.79 242.60,46.06 242.69,46.40 242.78,46.79 242.88,47.24 242.97,47.74 243.06,48.30 243.16,48.90 243.25,49.55 243.34,50.23 243.44,50.96 243.53,51.71 243.62,52.49 243.71,53.29 243.81,54.11 243.90,54.94 243.99,55.77 244.09,56.61 244.18,57.45 244.27,58.27 244.36,59.08 244.46,59.87 244.55,60.64 244.64,61.38 244.74,62.09 244.83,62.76 244.92,63.38 245.02,63.96 245.11,64.50 245.20,64.98 245.29,65.40 245.39,65.77 245.48,66.07 245.57,66.31 245.67,66.49 245.76,66.61 245.85,66.66 245.95,66.64 246.04,66.56 246.13,66.41 246.22,66.20 246.32,65.93 246.41,65.59 246.50,65.20 246.60,64.75 246.69,64.24 246.78,63.68 246.88,63.08 246.97,62.43 247.06,61.74 247.16,61.02 247.25,60.27 247.34,59.48 247.43,58.68 247.53,57.86 247.62,57.03 247.71,56.20 247.81,55.36 247.90,54.53 247.99,53.70 248.09,52.89 248.18,52.10 248.27,51.33 248.36,50.59 248.46,49.89 248.55,49.22 248.64,48.60 248.74,48.02 248.83,47.49 248.92,47.01 249.01,46.59 249.11,46.22 249.20,45.92 249.29,45.68 249.39,45.50 249.48,45.39 249.57,45.34 249.67,45.36 249.76,45.44 249.85,45.59 249.94,45.81 250.04,46.08 250.13,46.42 250.22,46.82 250.32,47.27 250.41,47.78 250.50,48.34 250.60,48.94 250.69,49.59 250.78,50.28 250.88,51.01 250.97,51.76 251.06,52.54 251.15,53.34 251.25,54.16 251.34,54.99 251.43,55.83 251.53,56.67 251.62,57.50 251.71,58.33 251.81,59.14 251.90,59.93 251.99,60.69 252.08,61.43 252.18,62.13 252.27,62.80 252.36,63.42 252.46,64.00 252.55,64.53 252.64,65.01 252.74,65.43 252.83,65.79 252.92,66.09 253.01,66.33 253.11,66.50 253.20,66.62 253.29,66.66 253.39,66.64 253.48,66.55 253.57,66.40 253.66,66.19 253.76,65.91 253.85,65.57 253.94,65.17 254.04,64.71 254.13,64.20 254.22,63.64 254.32,63.04 254.41,62.38 254.50,61.69 254.59,60.97 254.69,60.21 254.78,59.43 254.87,58.63 254.97,57.81 255.06,56.98 255.15,56.14 255.25,55.30 255.34,54.47 255.43,53.65 255.53,52.84 255.62,52.05 255.71,51.28 255.80,50.55 255.90,49.84 255.99,49.18 256.08,48.56 256.18,47.98 256.27,47.45 256.36,46.98 256.46,46.56 256.55,46.20 256.64,45.90 256.73,45.66 256.83,45.49 256.92,45.38 257.01,45.34 257.11,45.36 257.20,45.45 257.29,45.60 257.38,45.82 257.48,46.10 257.57,46.45 257.66,46.85 257.76,47.30 257.85,47.82 257.94,48.38 258.04,48.99 258.13,49.64 258.22,50.33 258.31,51.06 258.41,51.81 258.50,52.60 258.59,53.40 258.69,54.22 258.78,55.05 258.87,55.89 258.97,56.73 259.06,57.56 259.15,58.38 259.25,59.19 259.34,59.98 259.43,60.74 259.52,61.48 259.62,62.18 259.71,62.84 259.80,63.46 259.90,64.04 259.99,64.56 260.08,65.04 260.18,65.45 260.27,65.81 260.36,66.11 260.45,66.34 260.55,66.51 260.64,66.62 260.73,66.66 260.83,66.64 260.92,66.54 261.01,66.39 261.11,66.17 261.20,65.89 261.29,65.54 261.38,65.14 261.48,64.68 261.57,64.17 261.66,63.60 261.76,62.99 261.85,62.34 261.94,61.65 262.03,60.92 262.13,60.16 262.22,59.38 262.31,58.57 262.41,57.75 262.50,56.92 262.59,56.08 262.69,55.25 262.78,54.41 262.87,53.59 262.97,52.78 263.06,51.99 263.15,51.23 263.24,50.50 263.34,49.80 263.43,49.13 263.52,48.52 263.62,47.94 263.71,47.42 263.80,46.95 263.89,46.53 263.99,46.18 264.08,45.88 264.17,45.65 264.27,45.48 264.36,45.38 264.45,45.34 264.55,45.37 264.64,45.46 264.73,45.62 264.83,45.84 264.92,46.12 265.01,46.47 265.10,46.88 265.20,47.34 265.29,47.85 265.38,48.42 265.48,49.03 265.57,49.68 265.66,50.38 265.75,51.11 265.85,51.87 265.94,52.65 266.03,53.46 266.13,54.28 266.22,55.11 266.31,55.94 266.41,56.78 266.50,57.61 266.59,58.44 266.69,59.24 266.78,60.03 266.87,60.79 266.96,61.53 267.06,62.23 267.15,62.89 267.24,63.50 267.34,64.08 267.43,64.60 267.52,65.07 267.62,65.48 267.71,65.83 267.80,66.13 267.89,66.36 267.99,66.52 268.08,66.63 268.17,66.66 268.27,66.63 268.36,66.54 268.45,66.38 268.54,66.15 268.64,65.86 268.73,65.52 268.82,65.11 268.92,64.65 269.01,64.13 269.10,63.56 269.20,62.95 269.29,62.29 269.38,61.60 269.48,60.87 269.57,60.11 269.66,59.32 269.75,58.52 269.85,57.70 269.94,56.86 270.03,56.03 270.13,55.19 270.22,54.36 270.31,53.54 270.40,52.73 270.50,51.94 270.59,51.18 270.68,50.45 270.78,49.75 270.87,49.09 270.96,48.48 271.06,47.91 271.15,47.39 271.24,46.92 271.33,46.51 271.43,46.16 271.52,45.87 271.61,45.64 271.71,45.47 271.80,45.37 271.89,45.34 271.99,45.37 272.08,45.47 272.17,45.63 272.26,45.86 272.36,46.15 272.45,46.50 272.54,46.91 272.64,47.37 272.73,47.89 272.82,48.46 272.92,49.07 273.01,49.73 273.10,50.43 273.19,51.16 273.29,51.92 273.38,52.70 273.47,53.51 273.57,54.33 273.66,55.16 273.75,56.00 273.85,56.84 273.94,57.67 274.03,58.49 274.12,59.30 274.22,60.08 274.31,60.85 274.40,61.58 274.50,62.27 274.59,62.93 274.68,63.55 274.78,64.11 274.87,64.63 274.96,65.10 275.06,65.50 275.15,65.85 275.24,66.14 275.33,66.37 275.43,66.53 275.52,66.63 275.61,66.66 275.71,66.63 275.80,66.53 275.89,66.36 275.99,66.13 276.08,65.84 276.17,65.49 276.26,65.08 276.36,64.61 276.45,64.09 276.54,63.52 276.64,62.91 276.73,62.25 276.82,61.55 276.91,60.82 277.01,60.06 277.10,59.27 277.19,58.46 277.29,57.64 277.38,56.81 277.47,55.97 277.57,55.13 277.66,54.30 277.75,53.48 277.85,52.67 277.94,51.89 278.03,51.13 278.12,50.40 278.22,49.70 278.31,49.05 278.40,48.43 278.50,47.87 278.59,47.35 278.68,46.89 278.77,46.48 278.87,46.13 278.96,45.85 279.05,45.62 279.15,45.46 279.24,45.37 279.33,45.34 279.43,45.37 279.52,45.48 279.61,45.64 279.71,45.87 279.80,46.17 279.89,46.52 279.98,46.94 280.08,47.40 280.17,47.93 280.26,48.50 280.36,49.12 280.45,49.78 280.54,50.48 280.63,51.21 280.73,51.97 280.82,52.76 280.91,53.57 281.01,54.39 281.10,55.22 281.19,56.06 281.29,56.90 281.38,57.73 281.47,58.55 281.56,59.35 281.66,60.14 281.75,60.90 281.84,61.62 281.94,62.32 282.03,62.97 282.12,63.59 282.22,64.15 282.31,64.66 282.40,65.13 282.50,65.53 282.59,65.88 282.68,66.16 282.77,66.38 282.87,66.54 282.96,66.63 283.05,66.66 283.15,66.62 283.24,66.52 283.33,66.35 283.43,66.12 283.52,65.82 283.61,65.46 283.70,65.05 283.80,64.58 283.89,64.06 283.98,63.48 284.08,62.86 284.17,62.20 284.26,61.50 284.36,60.77 284.45,60.00 284.54,59.21 284.63,58.41 284.73,57.58 284.82,56.75 284.91,55.91 285.01,55.08 285.10,54.24 285.19,53.42 285.28,52.62 285.38,51.84 285.47,51.08 285.56,50.35 285.66,49.66 285.75,49.01 285.84,48.39 285.94,47.83 286.03,47.32 286.12,46.86 286.22,46.46 286.31,46.11 286.40,45.83 286.49,45.61 286.59,45.45 286.68,45.36 286.77,45.34 286.87,45.38 286.96,45.49 287.05,45.66 287.14,45.89 287.24,46.19 287.33,46.55 287.42,46.97 287.52,47.44 287.61,47.96 287.70,48.54 287.80,49.16 287.89,49.82 287.98,50.52 288.08,51.26 288.17,52.02 288.26,52.81 288.35,53.62 288.45,54.45 288.54,55.28 288.63,56.12 288.73,56.95 288.82,57.78 288.91,58.60 289.00,59.41 289.10,60.19 289.19,60.95 289.28,61.67 289.38,62.36 289.47,63.02 289.56,63.63 289.66,64.19 289.75,64.70 289.84,65.16 289.94,65.56 290.03,65.90 290.12,66.18 290.21,66.40 290.31,66.55 290.40,66.64 290.49,66.66 290.59,66.62 290.68,66.51 290.77,66.34 290.87,66.10 290.96,65.80 291.05,65.44 291.14,65.02 291.24,64.54 291.33,64.02 291.42,63.44 291.52,62.82 291.61,62.15 291.70,61.45 291.80,60.72 291.89,59.95 291.98,59.16 292.07,58.35 292.17,57.53 292.26,56.69 292.35,55.86 292.45,55.02 292.54,54.19 292.63,53.37 292.73,52.57 292.82,51.78 292.91,51.03 293.00,50.30 293.10,49.61 293.19,48.96 293.28,48.35 293.38,47.80 293.47,47.29 293.56,46.83 293.65,46.43 293.75,46.09 293.84,45.81 293.93,45.60 294.03,45.45 294.12,45.36 294.21,45.34 294.31,45.38 294.40,45.50 294.49,45.67 294.58,45.91 294.68,46.21 294.77,46.58 294.86,47.00 294.96,47.47 295.05,48.00 295.14,48.58 295.24,49.20 295.33,49.87 295.42,50.57 295.51,51.31 295.61,52.08 295.70,52.87 295.79,53.68 295.89,54.50 295.98,55.34 296.07,56.17 296.17,57.01 296.26,57.84 296.35,58.66 296.44,59.46 296.54,60.24 296.63,61.00 296.72,61.72 296.82,62.41 296.91,63.06 297.00,63.66 297.10,64.22 297.19,64.73 297.28,65.18 297.38,65.58 297.47,65.92 297.56,66.20 297.65,66.41 297.75,66.56 297.84,66.64 297.93,66.66 298.03,66.61 298.12,66.50 298.21,66.32 298.30,66.08 298.40,65.78 298.49,65.41 298.58,64.99 298.68,64.51 298.77,63.98 298.86,63.40 298.96,62.77 299.05,62.11 299.14,61.40 299.24,60.66 299.33,59.90 299.42,59.11 299.51,58.29 299.61,57.47 299.70,56.64 299.79,55.80 299.89,54.96 299.98,54.13 300.07,53.31 300.16,52.51 300.26,51.73 300.35,50.98 300.44,50.25 300.54,49.57 300.63,48.92 300.72,48.32 300.82,47.76 300.91,47.25 301.00,46.80 301.10,46.41 301.19,46.07 301.28,45.80 301.37,45.59 301.47,45.44 301.56,45.36 301.65,45.34 301.75,45.39 301.84,45.51 301.93,45.69 302.02,45.93 302.12,46.24 302.21,46.60 302.30,47.03 302.40,47.51 302.49,48.04 302.58,48.62 302.68,49.25 302.77,49.92 302.86,50.62 302.95,51.36 303.05,52.13 303.14,52.92 303.23,53.73 303.33,54.56 303.42,55.39 303.51,56.23 303.61,57.07 303.70,57.90 303.79,58.71 303.88,59.51 303.98,60.29 304.07,61.05 304.16,61.77 304.26,62.46 304.35,63.10 304.44,63.70 304.54,64.26 304.63,64.76 304.72,65.21 304.81,65.61 304.91,65.94 305.00,66.21 305.09,66.42 305.19,66.57 305.28,66.64 305.37,66.66 305.47,66.61 305.56,66.49 305.65,66.31 305.75,66.06 305.84,65.75 305.93,65.38 306.02,64.96 306.12,64.48 306.21,63.94 306.30,63.36 306.40,62.73 306.49,62.06 306.58,61.35 306.68,60.61 306.77,59.84 306.86,59.05 306.95,58.24 307.05,57.41 307.14,56.58 307.23,55.74 307.33,54.91 307.42,54.08 307.51,53.26 307.61,52.46 307.70,51.68 307.79,50.93 307.88,50.21 307.98,49.52 308.07,48.88 308.16,48.28 308.26,47.72 308.35,47.22 308.44,46.77 308.53,46.38 308.63,46.05 308.72,45.78 308.81,45.57 308.91,45.43 309.00,45.35 309.09,45.34 309.19,45.40 309.28,45.52 309.37,45.70 309.47,45.95 309.56,46.26 309.65,46.63 309.74,47.06 309.84,47.54 309.93,48.08 310.02,48.66 310.12,49.29 310.21,49.96 310.30,50.67 310.39,51.41 310.49,52.18 310.58,52.98 310.67,53.79 310.77,54.61 310.86,55.45 310.95,56.29 311.05,57.12 311.14,57.95 311.23,58.77 311.32,59.57 311.42,60.35 311.51,61.10 311.60,61.82 311.70,62.50 311.79,63.14 311.88,63.74 311.98,64.30 312.07,64.80 312.16,65.24 312.25,65.63 312.35,65.96 312.44,66.23 312.53,66.43 312.63,66.57 312.72,66.65 312.81,66.66 312.91,66.60 313.00,66.48 313.09,66.29 313.19,66.04 313.28,65.73 313.37,65.36 313.46,64.93 313.56,64.44 313.65,63.90 313.74,63.32 313.84,62.69 313.93,62.01 314.02,61.30 314.12,60.56 314.21,59.79 314.30,59.00 314.39,58.18 314.49,57.36 314.58,56.52 314.67,55.68 314.77,54.85 314.86,54.02 314.95,53.20 315.05,52.40 315.14,51.63 315.23,50.88 315.32,50.16 315.42,49.48 315.51,48.83 315.60,48.24 315.70,47.69 315.79,47.19 315.88,46.74 315.98,46.36 316.07,46.03 316.16,45.76 316.25,45.56 316.35,45.42 316.44,45.35 316.53,45.34 316.63,45.40 316.72,45.53 316.81,45.72 316.90,45.97 317.00,46.28 317.09,46.66 317.18,47.09 317.28,47.58 317.37,48.11 317.46,48.70 317.56,49.34 317.65,50.01 317.74,50.72 317.84,51.46 317.93,52.24 318.02,53.03 318.11,53.84 318.21,54.67 318.30,55.51 318.39,56.34 318.49,57.18 318.58,58.01 318.67,58.82 318.76,59.62 318.86,60.40 318.95,61.15 319.04,61.86 319.14,62.55 319.23,63.19 319.32,63.78 319.42,64.33 319.51,64.83 319.60,65.27 319.70,65.65 319.79,65.98 319.88,66.24 319.97,66.44 320.07,66.58 320.16,66.65 320.25,66.66 320.35,66.59 320.44,66.47 320.53,66.28 320.62,66.02 320.72,65.71 320.81,65.33 320.90,64.90 321.00,64.41 321.09,63.87 321.18,63.28 321.28,62.64 321.37,61.97 321.46,61.25 321.56,60.51 321.65,59.74 321.74,58.94 321.83,58.13 321.93,57.30 322.02,56.47 322.11,55.63 322.21,54.79 322.30,53.96 322.39,53.15 322.49,52.35 322.58,51.58 322.67,50.83 322.76,50.11 322.86,49.43 322.95,48.79 323.04,48.20 323.14,47.65 323.23,47.16 323.32,46.72 323.42,46.33 323.51,46.01 323.60,45.75 323.69,45.55 323.79,45.42 323.88,45.35 323.97,45.35 324.07,45.41 324.16,45.54 324.25,45.73 324.35,45.99 324.44,46.31 324.53,46.68 324.62,47.12 324.72,47.61 324.81,48.15 324.90,48.74 325.00,49.38 325.09,50.06 325.18,50.77 325.27,51.52 325.37,52.29 325.46,53.09 325.55,53.90 325.65,54.73 325.74,55.56 325.83,56.40 325.93,57.24 326.02,58.06 326.11,58.88 326.21,59.68 326.30,60.45 326.39,61.20 326.48,61.91 326.58,62.59 326.67,63.23 326.76,63.82 326.86,64.37 326.95,64.86 327.04,65.30 327.13,65.68 327.23,66.00 327.32,66.26 327.41,66.46 327.51,66.59 327.60,66.65 327.69,66.65 327.79,66.59 327.88,66.46 327.97,66.26 328.07,66.00 328.16,65.68 328.25,65.30 328.34,64.86 328.44,64.37 328.53,63.83 328.62,63.23 328.72,62.60 328.81,61.92 328.90,61.20 329.00,60.46 329.09,59.68 329.18,58.89 329.27,58.07 329.37,57.24 329.46,56.41 329.55,55.57 329.65,54.74 329.74,53.91 329.83,53.09 329.93,52.30 330.02,51.52 330.11,50.78 330.20,50.06 330.30,49.39 330.39,48.75 330.48,48.16 330.58,47.62 330.67,47.12 330.76,46.69 330.86,46.31 330.95,45.99 331.04,45.73 331.13,45.54 331.23,45.41 331.32,45.35 331.41,45.35 331.51,45.42 331.60,45.55 331.69,45.75 331.79,46.01 331.88,46.33 331.97,46.71 332.06,47.15 332.16,47.65 332.25,48.19 332.34,48.79 332.44,49.43 332.53,50.10 332.62,50.82 332.72,51.57 332.81,52.34 332.90,53.14 332.99,53.96 333.09,54.78 333.18,55.62 333.27,56.46 333.37,57.29 333.46,58.12 333.55,58.93 333.65,59.73 333.74,60.50 333.83,61.25 333.92,61.96 334.02,62.64 334.11,63.27 334.20,63.86 334.30,64.40 334.39,64.89 334.48,65.33 334.58,65.70 334.67,66.02 334.76,66.27 334.85,66.47 334.95,66.59 335.04,66.66 335.13,66.65 335.23,66.58 335.32,66.45 335.41,66.25 335.50,65.98 335.60,65.66 335.69,65.27 335.78,64.83 335.88,64.34 335.97,63.79 336.06,63.19 336.16,62.55 336.25,61.87 336.34,61.15 336.44,60.41 336.53,59.63 336.62,58.83 336.71,58.02 336.81,57.19 336.90,56.35 336.99,55.51 337.09,54.68 337.18,53.85 337.27,53.04 337.37,52.24 337.46,51.47 337.55,50.73 337.64,50.02 337.74,49.34 337.83,48.71 337.92,48.12 338.02,47.58 338.11,47.09 338.20,46.66 338.29,46.29 338.39,45.97 338.48,45.72 338.57,45.53 338.67,45.40 338.76,45.34 338.85,45.35 338.95,45.42 339.04,45.56 339.13,45.76 339.22,46.03 339.32,46.35 339.41,46.74 339.50,47.18 339.60,47.68 339.69,48.23 339.78,48.83 339.88,49.47 339.97,50.15 340.06,50.87 340.15,51.62 340.25,52.40 340.34,53.20 340.43,54.01 340.53,54.84 340.62,55.68 340.71,56.51 340.81,57.35 340.90,58.18 340.99,58.99 341.08,59.78 341.18,60.55 341.27,61.30 341.36,62.01 341.46,62.68 341.55,63.31 341.64,63.90 341.74,64.44 341.83,64.92 341.92,65.35 342.01,65.73 342.11,66.04 342.20,66.29 342.29,66.48 342.39,66.60 342.48,66.66 342.57,66.65 342.67,66.57 342.76,66.43 342.85,66.23 342.94,65.96 343.04,65.63 343.13,65.25 343.22,64.80 343.32,64.30 343.41,63.75 343.50,63.15 343.60,62.51 343.69,61.82 343.78,61.10 343.88,60.35 343.97,59.58 344.06,58.78 344.15,57.96 344.25,57.13 344.34,56.29 344.43,55.46 344.53,54.62 344.62,53.80 344.71,52.98 344.81,52.19 344.90,51.42 344.99,50.68 345.08,49.97 345.18,49.30 345.27,48.67 345.36,48.08 345.46,47.55 345.55,47.06 345.64,46.63 345.73,46.26 345.83,45.95 345.92,45.70 346.01,45.52 346.11,45.40 346.20,45.34 346.29,45.35 346.39,45.43 346.48,45.57 346.57,45.78 346.66,46.05 346.76,46.38 346.85,46.77 346.94,47.22 347.04,47.72 347.13,48.27 347.22,48.87 347.32,49.52 347.41,50.20 347.50,50.92 347.59,51.67 347.69,52.45 347.78,53.25 347.87,54.07 347.97,54.90 348.06,55.73 348.15,56.57 348.25,57.41 348.34,58.23 348.43,59.04 348.52,59.84 348.62,60.61 348.71,61.35 348.80,62.05 348.90,62.72 348.99,63.35 349.08,63.94 349.18,64.47 349.27,64.95 349.36,65.38 349.45,65.75 349.55,66.06 349.64,66.30 349.73,66.49 349.83,66.61 349.92,87.49 350.01,87.45 350.11,87.22 350.20,86.79 350.29,86.18 350.38,85.38 350.48,84.39 350.57,83.23 350.66,81.91 350.76,80.42 350.85,78.78 350.94,77.00 351.04,75.09 351.13,73.07 351.22,70.93 351.31,68.71 351.41,66.41 351.50,64.04 351.59,61.63 351.69,59.17 351.78,56.70 351.87,54.23 351.97,51.76 352.06,49.33 352.15,46.93 352.25,44.59 352.34,42.32 352.43,40.13 352.52,38.04 352.62,36.07 352.71,34.21 352.80,32.49 352.90,30.92 352.99,29.50 353.08,28.25 353.18,27.16 353.27,26.26 353.36,25.53 353.45,25.00 353.55,24.66 353.64,24.51 353.73,24.55 353.83,24.79 353.92,25.22 354.01,25.85 354.10,26.66 354.20,27.64 354.29,28.81 354.38,30.14 354.48,31.64 354.57,33.28 354.66,35.06 354.76,36.97 354.85,39.00 354.94,41.14 355.03,43.37 355.13,45.67 355.22,48.04 355.31,50.46 355.41,52.91 355.50,55.38 355.59,57.86 355.69,60.32 355.78,62.76 355.87,65.15 355.96,67.49 356.06,69.76 356.15,71.94 356.24,74.02 356.34,76.00 356.43,77.85 356.52,79.56 356.62,81.13 356.71,82.54 356.80,83.79 356.89,84.87 356.99,85.77 357.08,86.49 357.17,87.02 357.27,87.35 357.36,87.49 357.45,87.44 357.55,87.20 357.64,86.76 357.73,86.13 357.82,85.31 357.92,84.32 358.01,83.15 358.10,81.81 358.20,80.31 358.29,78.66 358.38,76.88 358.48,74.96 358.57,72.92 358.66,70.79 358.75,68.56 358.85,66.25 358.94,63.88 359.03,61.46 359.13,59.01 359.22,56.53 359.31,54.06 359.41,51.60 359.50,49.16 359.59,46.77 359.69,44.43 359.78,42.17 359.87,39.99 359.96,37.91 360.06,35.94 360.15,34.09 360.24,32.38 360.34,30.82 360.43,29.41 360.52,28.17 360.62,27.09 360.71,26.20 360.80,25.49 360.89,24.97 360.99,24.64 361.08,24.50 361.17,24.56 361.27,24.82 361.36,25.26 361.45,25.90 361.55,26.72 361.64,27.72 361.73,28.90 361.82,30.24 361.92,31.74 362.01,33.40 362.10,35.19 362.20,37.11 362.29,39.15 362.38,41.29 362.48,43.52 362.57,45.83 362.66,48.20 362.75,50.62 362.85,53.08 362.94,55.55 363.03,58.02 363.13,60.49 363.22,62.92 363.31,65.31 363.40,67.65 363.50,69.91 363.59,72.09 363.68,74.16 363.78,76.13 363.87,77.97 363.96,79.67 364.06,81.23 364.15,82.63 364.24,83.87 364.33,84.94 364.43,85.83 364.52,86.53 364.61,87.04 364.71,87.37 364.80,87.50 364.89,87.43 364.99,87.17 365.08,86.72 365.17,86.08 365.26,85.25 365.36,84.24 365.45,83.06 365.54,81.71 365.64,80.20 365.73,78.55 365.82,76.75 365.92,74.82 366.01,72.78 366.10,70.64 366.19,68.40 366.29,66.09 366.38,63.72 366.47,61.29 366.57,58.84 366.66,56.37 366.75,53.89 366.85,51.43 366.94,49.00 367.03,46.61 367.12,44.28 367.22,42.02 367.31,39.84 367.40,37.77 367.50,35.81 367.59,33.97 367.68,32.27 367.78,30.72 367.87,29.32 367.96,28.09 368.06,27.03 368.15,26.15 368.24,25.45 368.33,24.94 368.43,24.62 368.52,24.50 368.61,24.57 368.71,24.84 368.80,25.30 368.89,25.95 368.99,26.78 369.08,27.79 369.17,28.98 369.26,30.34 369.36,31.85 369.45,33.51 369.54,35.31 369.64,37.24 369.73,39.29 369.82,41.44 369.92,43.68 370.01,45.99 370.10,48.37 370.19,50.79 370.29,53.25 370.38,55.72 370.47,58.19 370.57,60.65 370.66,63.08 370.75,65.47 370.85,67.80 370.94,70.06 371.03,72.23 371.12,74.30 371.22,76.26 371.31,78.09 371.40,79.78 371.50,81.33 371.59,82.72 371.68,83.95 371.77,85.01 371.87,85.88 371.96,86.57 372.05,87.07 372.15,87.38 372.24,87.50 372.33,87.42 372.43,87.15 372.52,86.68 372.61,86.03 372.70,85.19 372.80,84.17 372.89,82.98 372.98,81.61 373.08,80.10 373.17,78.43 373.26,76.62 373.36,74.69 373.45,72.64 373.54,70.49 373.63,68.25 373.73,65.93 373.82,63.55 373.91,61.13 374.01,58.67 374.10,56.20 374.19,53.72 374.29,51.26 374.38,48.83 374.47,46.45 374.56,44.12 374.66,41.86 374.75,39.70 374.84,37.63 374.94,35.68 375.03,33.85 375.12,32.16 375.22,30.62 375.31,29.23 375.40,28.01 375.50,26.96 375.59,26.09 375.68,25.41 375.77,24.91 375.87,24.61 375.96,24.50 376.05,24.59 376.15,24.86 376.24,25.34 376.33,26.00 376.43,26.84 376.52,27.87 376.61,29.07 376.70,30.43 376.80,31.96 376.89,33.63 376.98,35.44 377.08,37.38 377.17,39.43 377.26,41.59 377.36,43.83 377.45,46.15 377.54,48.53 377.63,50.96 377.73,53.41 377.82,55.89 377.91,58.36 378.01,60.82 378.10,63.25 378.19,65.63 378.29,67.96 378.38,70.21 378.47,72.37 378.56,74.44 378.66,76.39 378.75,78.21 378.84,79.89 378.94,81.43 379.03,82.81 379.12,84.03 379.22,85.07 379.31,85.93 379.40,86.61 379.49,87.10 379.59,87.40 379.68,87.50 379.77,87.41 379.87,87.12 379.96,86.64 380.05,85.98 380.15,85.13 380.24,84.09 380.33,82.89 380.42,81.52 380.52,79.99 380.61,78.31 380.70,76.49 380.80,74.55 380.89,72.50 380.98,70.34 381.07,68.09 381.17,65.77 381.26,63.39 381.35,60.96 381.45,58.50 381.54,56.03 381.63,53.56 381.73,51.10 381.82,48.67 381.91,46.29 382.00,43.96 382.10,41.71 382.19,39.55 382.28,37.50 382.38,35.55 382.47,33.73 382.56,32.05 382.66,30.52 382.75,29.14 382.84,27.93 382.94,26.90 383.03,26.04 383.12,25.37 383.21,24.89 383.31,24.60 383.40,24.50 383.49,24.60 383.59,24.89 383.68,25.37 383.77,26.05 383.87,26.91 383.96,27.94 384.05,29.16 384.14,30.53 384.24,32.07 384.33,33.75 384.42,35.57 384.52,37.52 384.61,39.58 384.70,41.74 384.80,43.99 384.89,46.31 384.98,48.69 385.07,51.12 385.17,53.58 385.26,56.05 385.35,58.53 385.45,60.99 385.54,63.41 385.63,65.79 385.73,68.11 385.82,70.36 385.91,72.52 386.00,74.57 386.10,76.51 386.19,78.33 386.28,80.00 386.38,81.53 386.47,82.90 386.56,84.10 386.66,85.14 386.75,85.99 386.84,86.65 386.93,87.13 387.03,87.41 387.12,87.50 387.21,87.40 387.31,87.10 387.40,86.61 387.49,85.93 387.59,85.06 387.68,84.02 387.77,82.80 387.86,81.42 387.96,79.88 388.05,78.19 388.14,76.37 388.24,74.42 388.33,72.35 388.42,70.19 388.52,67.94 388.61,65.61 388.70,63.22 388.79,60.79 388.89,58.34 388.98,55.86 389.07,53.39 389.17,50.93 389.26,48.51 389.35,46.13 389.44,43.81 389.54,41.56 389.63,39.41 389.72,37.36 389.82,35.42 389.91,33.61 390.00,31.94 390.10,30.42 390.19,29.06 390.28,27.86 390.38,26.83 390.47,25.99 390.56,25.33 390.65,24.86 390.75,24.58 390.84,24.50 390.93,24.61 391.03,24.92 391.12,25.41 391.21,26.10 391.31,26.97 391.40,28.02 391.49,29.24 391.58,30.63 391.68,32.18 391.77,33.87 391.86,35.70 391.96,37.65 392.05,39.72 392.14,41.89 392.24,44.14 392.33,46.47 392.42,48.86 392.51,51.29 392.61,53.75 392.70,56.22 392.79,58.70 392.89,61.15 392.98,63.58 393.07,65.95 393.17,68.27 393.26,70.51 393.35,72.66 393.44,74.71 393.54,76.64 393.63,78.45 393.72,80.11 393.82,81.63 393.91,82.99 394.00,84.18 394.10,85.20 394.19,86.04 394.28,86.69 394.37,87.15 394.47,87.42 394.56,87.50 394.65,87.38 394.75,87.07 394.84,86.57 394.93,85.87 395.03,85.00 395.12,83.94 395.21,82.71 395.30,81.32 395.40,79.77 395.49,78.07 395.58,76.24 395.68,74.28 395.77,72.21 395.86,70.04 395.96,67.78 396.05,65.45 396.14,63.06 396.23,60.63 396.33,58.17 396.42,55.69 396.51,53.22 396.61,50.77 396.70,48.34 396.79,45.97 396.88,43.65 396.98,41.42 397.07,39.27 397.16,37.22 397.26,35.30 397.35,33.50 397.44,31.83 397.54,30.32 397.63,28.97 397.72,27.78 397.81,26.77 397.91,25.94 398.00,25.29 398.09,24.84 398.19,24.57 398.28,24.50 398.37,24.63 398.47,24.95 398.56,25.46 398.65,26.15 398.75,27.04 398.84,28.10 398.93,29.33 399.02,30.73 399.12,32.29 399.21,33.99 399.30,35.83 399.40,37.79 399.49,39.86 399.58,42.04 399.67,44.30 399.77,46.63 399.86,49.02 399.95,51.45 400.05,53.92 400.14,56.39 400.23,58.86 400.33,61.32 400.42,63.74 400.51,66.11 400.60,68.42 400.70,70.66 400.79,72.80 400.88,74.84 400.98,76.77 401.07,78.56 401.16,80.22 401.26,81.73 401.35,83.07 401.44,84.26 401.53,85.26 401.63,86.09 401.72,86.73 401.81,87.18 401.91,87.43 402.00,87.50 402.09,87.37 402.19,87.04 402.28,86.52 402.37,85.82 402.46,84.93 402.56,83.86 402.65,82.62 402.74,81.22 402.84,79.66 402.93,77.95 403.02,76.11 403.12,74.14 403.21,72.06 403.30,69.89 403.39,67.62 403.49,65.29 403.58,62.90 403.67,60.46 403.77,58.00 403.86,55.52 403.95,53.05 404.05,50.60 404.14,48.18 404.23,45.81 404.32,43.50 404.42,41.27 404.51,39.13 404.60,37.09 404.70,35.17 404.79,33.38 404.88,31.73 404.98,30.22 405.07,28.88 405.16,27.71 405.25,26.71 405.35,25.89 405.44,25.26 405.53,24.81 405.63,24.56 405.72,24.50 405.81,24.64 405.91,24.97 406.00,25.50 406.09,26.21 406.19,27.10 406.28,28.18 406.37,29.42 406.46,30.83 406.56,32.40 406.65,34.11 406.74,35.96 406.84,37.93 406.93,40.01 407.02,42.19 407.12,44.45 407.21,46.79 407.30,49.19 407.39,51.62 407.49,54.08 407.58,56.56 407.67,59.03 407.77,61.48 407.86,63.90 407.95,66.27 408.04,68.58 408.14,70.81 408.23,72.95 408.32,74.98 408.42,76.89 408.51,78.68 408.60,80.33 408.70,81.82 408.79,83.16 408.88,84.33 408.97,85.32 409.07,86.14 409.16,86.76 409.25,87.20 409.35,87.44 409.44,87.49 409.53,87.35 409.63,87.01 409.72,86.48 409.81,85.76 409.90,84.86 410.00,83.78 410.09,82.53 410.18,81.12 410.28,79.55 410.37,77.83 410.46,75.98 410.56,74.00 410.65,71.92 410.74,69.74 410.83,67.47 410.93,65.13 411.02,62.73 411.11,60.30 411.21,57.83 411.30,55.36 411.39,52.89 411.49,50.43 411.58,48.02 411.67,45.65 411.76,43.34 411.86,41.12 411.95,38.98 412.04,36.95 412.14,35.04 412.23,33.26 412.32,31.62 412.42,30.13 412.51,28.80 412.60,27.63 412.69,26.65 412.79,25.84 412.88,25.22 412.97,24.79 413.07,24.55 413.16,24.51 413.25,24.66 413.35,25.00 413.44,25.54 413.53,26.26 413.62,27.17 413.72,28.26 413.81,29.51 413.90,30.94 414.00,32.51 414.09,34.23 414.18,36.09 414.28,38.06 414.37,40.15 414.46,42.34 414.56,44.61 414.65,46.95 414.74,49.35 414.83,51.79 414.93,54.25 415.02,56.25 415.11,57.08 415.21,57.91 415.30,58.73 415.39,59.53 415.49,60.31 415.58,61.06 415.67,61.78 415.76,62.47 415.86,63.11 415.95,63.72 416.04,64.27 416.14,64.77 416.23,65.22 416.32,65.61 416.42,65.95 416.51,66.22 416.60,66.42 416.69,66.57 416.79,66.65 416.88,66.66 416.97,66.60 417.07,66.49 417.16,66.30 417.25,66.06 417.34,65.75 417.44,65.38 417.53,64.95 417.62,64.47 417.72,63.93 417.81,63.35 417.90,62.72 418.00,62.05 418.09,61.34 418.18,60.60 418.27,59.83 418.37,59.03 418.46,58.22 418.55,57.40 418.65,56.56 418.74,55.73 418.83,54.89 418.93,54.06 419.02,53.24 419.11,52.44 419.20,51.66 419.30,50.91 419.39,50.19 419.48,49.51 419.58,48.86 419.67,48.26 419.76,47.71 419.86,47.21 419.95,46.76 420.04,46.37 420.13,46.04 420.23,45.78 420.32,45.57 420.41,45.43 420.51,45.35 420.60,45.34 420.69,45.40 420.79,45.52 420.88,45.70 420.97,45.95 421.06,46.27 421.16,46.64 421.25,47.07 421.34,47.55 421.44,48.09 421.53,48.67 421.62,49.30 421.72,49.98 421.81,50.69 421.90,51.43 422.00,52.20 422.09,52.99 422.18,53.80 422.27,54.63 422.37,55.47 422.46,56.30 422.55,57.14 422.65,57.97 422.74,58.78 422.83,59.58 422.93,60.36 423.02,61.11 423.11,61.83 423.20,62.51 423.30,63.16 423.39,63.76 423.48,64.31 423.58,64.80 423.67,65.25 423.76,65.64 423.86,65.97 423.95,66.23 424.04,66.44 424.13,66.58 424.23,66.65 424.32,66.66 424.41,66.60 424.51,66.48 424.60,66.29 424.69,66.04 424.79,65.72 424.88,65.35 424.97,64.92 425.06,64.43 425.16,63.89 425.25,63.31 425.34,62.67 425.44,62.00 425.53,61.29 425.62,60.55 425.71,59.77 425.81,58.98 425.90,58.17 425.99,57.34 426.09,56.51 426.18,55.67 426.27,54.83 426.37,54.00 426.46,53.19 426.55,52.39 426.64,51.61 426.74,50.86 426.83,50.14 426.92,49.46 427.02,48.82 427.11,48.23 427.20,47.68 427.30,47.18 427.39,46.74 427.48,46.35 427.57,46.02 427.67,45.76 427.76,45.56 427.85,45.42 427.95,45.35 428.04,45.34 428.13,45.40 428.23,45.53 428.32,45.72 428.41,45.97 428.50,46.29 428.60,46.66 428.69,47.10 428.78,47.59 428.88,48.13 428.97,48.72 429.06,49.35 429.16,50.02 429.25,50.74 429.34,51.48 429.44,52.25 429.53,53.05 429.62,53.86 429.71,54.69 429.81,55.52 429.90,56.36 429.99,57.20 430.09,58.02 430.18,58.84 430.27,59.64 430.37,60.41 430.46,61.16 430.55,61.88 430.64,62.56 430.74,63.20 430.83,63.79 430.92,64.34 431.02,64.84 431.11,65.28 431.20,65.66 431.30,65.99 431.39,66.25 431.48,66.45 431.57,66.58 431.67,66.65 431.76,66.65 431.85,66.59 431.95,66.46 432.04,66.27 432.13,66.02 432.23,65.70 432.32,65.32 432.41,64.89 432.50,64.40 432.60,63.85 432.69,63.26 432.78,62.63 432.88,61.95 432.97,61.24 433.06,60.49 433.16,59.72 433.25,58.93 433.34,58.11 433.43,57.28 433.53,56.45 433.62,55.61 433.71,54.78 433.81,53.95 433.90,53.13 433.99,52.34 434.08,51.56 434.18,50.81 434.27,50.10 434.36,49.42 434.46,48.78 434.55,48.19 434.64,47.64 434.74,47.15 434.83,46.71 434.92,46.33 435.01,46.00 435.11,45.74 435.20,45.55 435.29,45.41 435.39,45.35 435.48,45.35 435.57,45.41 435.67,45.54 435.76,45.74 435.85,45.99 435.94,46.31 436.04,46.69 436.13,47.13 436.22,47.62 436.32,48.16 436.41,48.76 436.50,49.39 436.60,50.07 436.69,50.79 436.78,51.53 436.88,52.31 436.97,53.10 437.06,53.92 437.15,54.74 437.25,55.58 437.34,56.42 437.43,57.25 437.53,58.08 437.62,58.89 437.71,59.69 437.81,60.47 437.90,61.21 437.99,61.93 438.08,62.60 438.18,63.24 438.27,63.83 438.36,64.38 438.46,64.87 438.55,65.31 438.64,65.69 438.74,66.01 438.83,66.26 438.92,66.46 439.01,66.59 439.11,66.65 439.20,87.47 439.29,87.28 439.39,86.89 439.48,86.31 439.57,85.54 439.67,84.59 439.76,83.46 439.85,82.16 439.94,80.70 440.04,79.09 440.13,77.34 440.22,75.45 440.32,73.45 440.41,71.33 440.50,69.13 440.60,66.84 440.69,64.48 440.78,62.07 440.87,59.63 440.97,57.16 441.06,54.68 441.15,52.22 441.25,49.77 441.34,47.37 441.43,45.01 441.53,42.73 441.62,40.53 441.71,38.42 441.80,36.42 441.90,34.55 441.99,32.80 442.08,31.20 442.18,29.75 442.27,28.46 442.36,27.35 442.46,26.41 442.55,25.65 442.64,25.08 442.73,24.70 442.83,24.52 442.92,24.53 443.01,24.73 443.11,25.13 443.20,25.72 443.29,26.49 443.38,27.45 443.48,28.58 443.57,29.89 443.66,31.35 443.76,32.97 443.85,34.72 443.94,36.61 444.04,38.62 444.13,40.74 444.22,42.95 444.31,45.24 444.41,47.60 444.50,50.01 444.59,52.46 444.69,54.93 444.78,57.40 444.87,59.87 444.97,62.31 445.06,64.71 445.15,67.06 445.25,69.35 445.34,71.55 445.43,73.65 445.52,75.64 445.62,77.52 445.71,79.26 445.80,80.85 445.90,82.30 445.99,83.58 446.08,84.69 446.18,85.62 446.27,86.37 446.36,86.93 446.45,87.30 446.55,87.48 446.64,87.47 446.73,87.26 446.83,86.85 446.92,86.26 447.01,85.48 447.11,84.51 447.20,83.38 447.29,82.07 447.38,80.60 447.48,78.98 447.57,77.21 447.66,75.32 447.76,73.31 447.85,71.19 447.94,68.97 448.04,66.68 448.13,64.32 448.22,61.91 448.31,59.46 448.41,56.99 448.50,54.51 448.59,52.05 448.69,49.61 448.78,47.20 448.87,44.86 448.97,42.58 449.06,40.38 449.15,38.28 449.24,36.29 449.34,34.42 449.43,32.69 449.52,31.10 449.62,29.66 449.71,28.38 449.80,27.28 449.90,26.35 449.99,25.61 450.08,25.05 450.17,24.69 450.27,24.51 450.36,24.54 450.45,24.75 450.55,25.16 450.64,25.76 450.73,26.55 450.83,27.52 450.92,28.67 451.01,29.98 451.10,31.45 451.20,33.08 451.29,34.85 451.38,36.75 451.48,38.76 451.57,40.89 451.66,43.10 451.75,45.40 451.85,47.76 451.94,50.18 452.03,52.62 452.13,55.09 452.22,57.57 452.31,60.03 452.41,62.48 452.50,64.88 452.59,67.22 452.69,69.50 452.78,71.69 452.87,73.79 452.96,75.77 453.06,77.64 453.15,79.37 453.24,80.96 453.34,82.39 453.43,83.66 453.52,84.76 453.62,85.68 453.71,86.41 453.80,86.96 453.89,87.32 453.99,87.49 454.08,87.46 454.17,87.24 454.27,86.82 454.36,86.21 454.45,85.42 454.54,84.44 454.64,83.29 454.73,81.97 454.82,80.49 454.92,78.86 455.01,77.09 455.10,75.19 455.20,73.17 455.29,71.04 455.38,68.82 455.47,66.52 455.57,64.16 455.66,61.74 455.75,59.29 455.85,56.82 455.94,54.35 456.03,51.88 456.13,49.44 456.22,47.04 456.31,44.70 456.40,42.43 456.50,40.23 456.59,38.14 456.68,36.16 456.78,34.30 456.87,32.57 456.96,30.99 457.06,29.57 457.15,28.30 457.24,27.21 457.33,26.29 457.43,25.56 457.52,25.02 457.61,24.67 457.71,24.51 457.80,24.55 457.89,24.78 457.99,25.20 458.08,25.81 458.17,26.61 458.26,27.59 458.36,28.75 458.45,30.07 458.54,31.56 458.64,33.20 458.73,34.97 458.82,36.88 458.92,38.90 459.01,41.03 459.10,43.26 459.19,45.56 459.29,47.92 459.38,50.34 459.47,52.79 459.57,55.26 459.66,57.74 459.75,60.20 459.85,62.64 459.94,65.04 460.03,67.38 460.12,69.65 460.22,71.84 460.31,73.93 460.40,75.91 460.50,77.76 460.59,79.48 460.68,81.06 460.78,82.48 460.87,83.74 460.96,84.82 461.06,85.73 461.15,86.46 461.24,87.00 461.33,87.34 461.43,87.49 461.52,87.45 461.61,87.21 461.71,86.78 461.80,86.16 461.89,85.36 461.98,84.37 462.08,83.21 462.17,81.88 462.26,80.39 462.36,78.75 462.45,76.96 462.54,75.05 462.64,73.02 462.73,70.89 462.82,68.67 462.91,66.36 463.01,63.99 463.10,61.58 463.19,59.12 463.29,56.65 463.38,54.18 463.47,51.71 463.57,49.28 463.66,46.88 463.75,44.54 463.84,42.27 463.94,40.09 464.03,38.00 464.12,36.03 464.22,34.18 464.31,32.46 464.40,30.89 464.50,29.47 464.59,28.22 464.68,27.14 464.77,26.24 464.87,25.52 464.96,24.99 465.05,24.65 465.15,24.51 465.24,24.56 465.33,24.80 465.43,25.23 465.52,25.86 465.61,26.67 465.70,27.67 465.80,28.83 465.89,30.17 465.98,31.67 466.08,33.31 466.17,35.10 466.26,37.01 466.36,39.05 466.45,41.18 466.54,43.41 466.63,45.72 466.73,48.09 466.82,50.51 466.91,52.96 467.01,55.43 467.10,57.91 467.19,60.37 467.29,62.80 467.38,65.20 467.47,67.54 467.56,69.80 467.66,71.98 467.75,74.07 467.84,76.04 467.94,77.88 468.03,79.59 468.12,81.16 468.22,82.57 468.31,83.82 468.40,84.89 468.50,85.79 468.59,86.50 468.68,87.02 468.77,87.36 468.87,87.50 468.96,87.44 469.05,87.19 469.15,86.75 469.24,86.11 469.33,85.30 469.43,84.30 469.52,83.12 469.61,81.78 469.70,80.28 469.80,78.63 469.89,76.84 469.98,74.92 470.08,72.88 470.17,70.74 470.26,68.51 470.35,66.20 470.45,63.83 470.54,61.41 470.63,58.96 470.73,56.49 470.82,54.01 470.91,51.55 471.01,49.11 471.10,46.72 471.19,44.39 471.28,42.12 471.38,39.94 471.47,37.87 471.56,35.90 471.66,34.06 471.75,32.35 471.84,30.79 471.94,29.38 472.03,28.14 472.12,27.07 472.21,26.18 472.31,25.48 472.40,24.96 472.49,24.64 472.59,24.50 472.68,24.57 472.77,24.82 472.87,25.27 472.96,25.91 473.05,26.73 473.14,27.74 473.24,28.92 473.33,30.27 473.42,31.77 473.52,33.43 473.61,35.22 473.70,37.15 473.80,39.19 473.89,41.33 473.98,43.57 474.07,45.88 474.17,48.25 474.26,50.67 474.35,53.13 474.45,55.60 474.54,58.07 474.63,60.54 474.73,62.97 474.82,65.36 474.91,67.69 475.00,69.95 475.10,72.13 475.19,74.20 475.28,76.17 475.38,78.00 475.47,79.71 475.56,81.26 475.66,82.66 475.75,83.90 475.84,84.96 475.94,85.84 476.03,86.54 476.12,87.05 476.21,87.37 476.31,87.50 476.40,87.43 476.49,87.17 476.59,86.71 476.68,86.06 476.77,85.23 476.87,84.22 476.96,83.04 477.05,81.68 477.14,80.17 477.24,78.51 477.33,76.71 477.42,74.78 477.52,72.74 477.61,70.59 477.70,68.36 477.80,66.04 477.89,63.67 477.98,61.24 478.07,58.79 478.17,56.32 478.26,53.84 478.35,51.38 478.45,48.95 478.54,46.56 478.63,44.23 478.73,41.97 478.82,39.80 478.91,37.73 479.00,35.77 479.10,33.94 479.19,32.24 479.28,30.69 479.38,29.29 479.47,28.06 479.56,27.01 479.65,26.13 479.75,25.44 479.84,24.93 479.93,24.62 480.03,24.50 480.12,24.58 480.21,24.85 480.31,25.31 480.40,25.96 480.49,26.80 480.58,27.82 480.68,29.01 480.77,30.37 480.86,31.88 480.96,33.55 481.05,35.35 481.14,37.28 481.24,39.33 481.33,41.48 481.42,43.72 481.51,46.04 481.61,48.41 481.70,50.84 481.79,53.29 481.89,55.77 481.98,58.24 482.07,60.70 482.17,63.13 482.26,65.52 482.35,67.85 482.44,70.10 482.54,72.27 482.63,74.34 482.72,76.29 482.82,78.12 482.91,79.82 483.00,81.36 483.10,82.75 483.19,83.97 483.28,85.02 483.38,85.90 483.47,86.58 483.56,87.08 483.65,87.39 483.75,87.50 483.84,87.42 483.93,87.14 484.03,86.67 484.12,86.01 484.21,85.17 484.31,84.15 484.40,82.95 484.49,81.59 484.58,80.06 484.68,78.39 484.77,76.58 484.86,74.65 484.96,72.60 485.05,70.44 485.14,68.20 485.24,65.88 485.33,63.50 485.42,61.08 485.51,58.62 485.61,56.15 485.70,53.67 485.79,51.21 485.89,48.78 485.98,46.40 486.07,44.07 486.17,41.82 486.26,39.66 486.35,37.59 486.44,35.64 486.54,33.82 486.63,32.13 486.72,30.59 486.82,29.21 486.91,27.99 487.00,26.94 487.10,26.08 487.19,25.40 487.28,24.91 487.37,24.61 487.47,24.50 487.56,24.59 487.65,24.87 487.75,25.35 487.84,26.01 487.93,26.86 488.02,27.89 488.12,29.09 488.21,30.46 488.30,31.99 488.40,33.67 488.49,35.48 488.58,37.42 488.68,39.47 488.77,41.63 488.86,43.88 488.95,46.20 489.05,48.58 489.14,51.00 489.23,53.46 489.33,55.94 489.42,58.41 489.51,60.87 489.61,63.30 489.70,65.68 489.79,68.00 489.88,70.25 489.98,72.42 490.07,74.48 490.16,76.42 490.26,78.24 490.35,79.93 490.44,81.46 490.54,82.84 490.63,84.05 490.72,85.09 490.81,85.95 490.91,86.62 491.00,87.11 491.09,87.40 491.19,87.50 491.28,87.40 491.37,87.12 491.47,86.63 491.56,85.96 491.65,85.11 491.75,84.07 491.84,82.86 491.93,81.49 492.02,79.95 492.12,78.27 492.21,76.46 492.30,74.51 492.40,72.45 492.49,70.29 492.58,68.05 492.68,65.72 492.77,63.34 492.86,60.91 492.95,58.45 493.05,55.98 493.14,53.51 493.23,51.05 493.33,48.62 493.42,46.24 493.51,43.92 493.61,41.67 493.70,39.51 493.79,37.46 493.88,35.51 493.98,33.70 494.07,32.02 494.16,30.49 494.26,29.12 494.35,27.91 494.44,26.88 494.54,26.03 494.63,25.36 494.72,24.88 494.81,24.59 494.91,24.50 495.00,24.60 495.09,24.90 495.19,25.39 495.28,26.06 495.37,26.93 495.47,27.97 495.56,29.18 495.65,30.56 495.74,32.10 495.84,33.78 495.93,35.61 496.02,37.56 496.12,39.62 496.21,41.78 496.30,44.03 496.40,46.36 496.49,48.74 496.58,51.17 496.67,53.63 496.77,56.10 496.86,58.58 496.95,61.03 497.05,63.46 497.14,65.84 497.23,68.16 497.32,70.40 497.42,72.56 497.51,74.61 497.60,76.55 497.70,78.36 497.79,80.04 497.88,81.56 497.98,82.93 498.07,84.13 498.16,85.15 498.25,86.00 498.35,86.66 498.44,87.13 498.53,87.41 498.63,87.50 498.72,87.39 498.81,87.09 498.91,86.59 499.00,85.91 499.09,85.04 499.19,83.99 499.28,82.77 499.37,81.39 499.46,79.85 499.56,78.16 499.65,76.33 499.74,74.38 499.84,72.31 499.93,70.14 500.02,67.89 500.12,65.56 500.21,63.18 500.30,60.75 500.39,58.29 500.49,55.81 500.58,53.34 500.67,50.88 500.77,48.46 500.86,46.08 500.95,43.76 501.05,41.52 501.14,39.37 501.23,37.32 501.32,35.39 501.42,33.58 501.51,31.91 501.60,30.39 501.70,29.03 501.79,27.84 501.88,26.81 501.98,25.97 502.07,25.32 502.16,24.85 502.25,24.58 502.35,24.50 502.44,24.62 502.53,24.93 502.63,25.43 502.72,26.12 502.81,26.99 502.91,28.04 503.00,29.27 503.09,30.66 503.18,32.21 503.28,33.90 503.37,35.74 503.46,37.69 503.56,39.76 503.65,41.93 503.74,44.19 503.84,46.52 503.93,48.91 504.02,51.34 504.11,53.80 504.21,56.27 504.30,58.74 504.39,61.20 504.49,63.62 504.58,66.00 504.67,68.32 504.77,70.55 504.86,72.70 504.95,74.75 505.04,76.68 505.14,78.48 505.23,80.14 505.32,81.66 505.42,83.01 505.51,84.20 505.60,85.22 505.69,86.05 505.79,86.70 505.88,87.16 505.97,87.43 506.07,87.50 506.16,87.38 506.25,87.06 506.35,86.55 506.44,85.86 506.53,84.98 506.62,83.92 506.72,82.68 506.81,81.29 506.90,79.73 507.00,78.04 507.09,76.20 507.18,74.24 507.28,72.17 507.37,69.99 507.46,67.73 507.56,65.40 507.65,63.01 507.74,60.58 507.83,58.12 507.93,55.64 508.02,53.17 508.11,50.72 508.21,48.29 508.30,45.92 508.39,43.61 508.49,41.37 508.58,39.23 508.67,37.18 508.76,35.26 508.86,33.46 508.95,31.80 509.04,30.29 509.14,28.94 509.23,27.76 509.32,26.75 509.42,25.92 509.51,25.28 509.60,24.83 509.69,24.57 509.79,24.50 509.88,24.63 509.97,24.95 510.07,25.47 510.16,26.17 510.25,27.06 510.35,28.12 510.44,29.36 510.53,30.76 510.62,32.32 510.72,34.02 510.81,35.86 510.90,37.83 511.00,39.91 511.09,42.08 511.18,44.34 511.28,46.68 511.37,49.07 511.46,51.50 511.55,53.97 511.65,56.44 511.74,58.91 511.83,61.37 511.93,63.79 512.02,66.16 512.11,68.47 512.21,70.70 512.30,72.85 512.39,74.88 512.48,76.80 512.58,78.60 512.67,80.25 512.76,81.76 512.86,83.10 512.95,84.28 513.04,85.28 513.13,86.10 513.23,86.74 513.32,87.18 513.41,87.44 513.51,87.50 513.60,87.36 513.69,87.03 513.79,86.51 513.88,85.80 513.97,84.91 514.07,83.84 514.16,82.59 514.25,81.19 514.34,79.62 514.44,77.91 514.53,76.07 514.62,74.10 514.72,72.02 514.81,69.84 514.90,67.58 515.00,65.24 515.09,62.85 515.18,60.41 515.27,57.95 515.37,55.48 515.46,53.00 515.55,50.55 515.65,48.13 515.74,45.76 515.83,43.45 515.92,41.22 516.02,39.08 516.11,37.05 516.20,35.13 516.30,33.34 516.39,31.69 516.48,30.20 516.58,28.86 516.67,27.69 516.76,26.69 516.86,25.87 516.95,25.24 517.04,24.80 517.13,24.56 517.23,24.51 517.32,24.65 517.41,24.98 517.51,25.51 517.60,26.22 517.69,27.12 517.78,28.20 517.88,29.45 517.97,30.86 518.06,32.43 518.16,34.15 518.25,35.99 518.34,37.97 518.44,40.05 518.53,42.23 518.62,44.50 518.71,46.84 518.81,49.23 518.90,51.67 518.99,54.13 519.09,56.61 519.18,59.08 519.27,61.53 519.37,63.95 519.46,66.32 519.55,68.62 519.64,70.85 519.74,72.99 519.83,75.02 519.92,76.93 520.02,78.71 520.11,80.36 520.20,81.85 520.30,83.19 520.39,84.35 520.48,85.34 520.58,86.15 520.67,86.77 520.76,87.21 520.85,87.45 520.95,87.49 521.04,87.34 521.13,87.00 521.23,86.47 521.32,85.75 521.41,84.84 521.50,83.76 521.60,82.50 521.69,81.09 521.78,79.51 521.88,77.79 521.97,75.94 522.06,73.96 522.16,71.88 522.25,69.69 522.34,67.42 522.43,65.08 522.53,62.68 522.62,60.25 522.71,57.78 522.81,55.31 522.90,52.84 522.99,50.38 523.09,47.97 523.18,45.60 523.27,43.30 523.37,41.07 523.46,38.94 523.55,36.91 523.64,35.01 523.74,33.23 523.83,31.59 523.92,30.10 524.02,28.77 524.11,27.61 524.20,26.63 524.29,25.83 524.39,25.21 524.48,24.78 524.57,24.55 524.67,24.51 524.76,24.66 524.85,25.01 524.95,25.55 525.04,26.28 525.13,27.19 525.22,28.28 525.32,29.54 525.41,30.97 525.50,32.54 525.60,34.27 525.69,36.13 525.78,38.11 525.88,40.20 525.97,42.38 526.06,44.66 526.15,47.00 526.25,49.40 526.34,51.84 526.43,54.30 526.53,56.78 526.62,59.25 526.71,61.70 526.81,64.11 526.90,66.48 526.99,68.78 527.09,71.00 527.18,73.13 527.27,75.15 527.36,77.06 527.46,78.83 527.55,80.46 527.64,81.95 527.74,83.27 527.83,84.42 527.92,85.40 528.01,86.20 528.11,86.81 528.20,87.23 528.29,87.46 528.39,87.49 528.48,87.33 528.57,86.97 528.67,86.43 528.76,85.69 528.85,84.77 528.94,83.68 529.04,82.41 529.13,80.98 529.22,79.40 529.32,77.67 529.41,75.81 529.50,73.83 529.60,71.73 529.69,69.54 529.78,67.26 529.88,64.92 529.97,62.52 530.06,60.08 530.15,57.61 530.25,55.14 530.34,52.67 530.43,50.22 530.53,47.81 530.62,45.44 530.71,43.14 530.81,40.93 530.90,38.80 530.99,36.78 531.08,34.88 531.18,33.11 531.27,31.48 531.36,30.00 531.46,28.69 531.55,27.54 531.64,26.57 531.74,25.78 531.83,25.17 531.92,24.76 532.01,24.54 532.11,24.51 532.20,24.68 532.29,25.04 532.39,25.60 532.48,26.34 532.57,27.26 532.66,28.36 532.76,29.63 532.85,31.07 532.94,32.66 533.04,34.39 533.13,36.26 533.22,38.24 533.32,40.34 533.41,42.54 533.50,44.81 533.60,47.16 533.69,49.56 533.78,52.00 533.87,54.47 533.97,56.95 534.06,59.42 534.15,61.86 534.25,64.28 534.34,66.64 534.43,68.93 534.52,71.15 534.62,73.27 534.71,75.29 534.80,77.18 534.90,78.95 534.99,80.57 535.08,82.04 535.18,83.35 535.27,84.50 535.36,85.46 535.45,86.25 535.55,86.84 535.64,87.25 535.73,87.46 535.83,87.48 535.92,87.31 536.01,86.94 536.11,86.38 536.20,85.64 536.29,84.71 536.38,83.60 536.48,82.32 536.57,80.88 536.66,79.29 536.76,77.55 536.85,75.68 536.94,73.69 537.04,71.58 537.13,69.39 537.22,67.11 537.32,64.76 537.41,62.35 537.50,59.91 537.59,57.45 537.69,54.97 537.78,52.50 537.87,50.05 537.97,47.64 538.06,45.28 538.15,42.99 538.25,40.78 538.34,38.66 538.43,36.65 538.52,34.76 538.62,33.00 538.71,31.38 538.80,29.91 538.90,28.60 538.99,27.47 539.08,26.51 539.17,25.73 539.27,25.14 539.36,24.74 539.45,24.53 539.55,24.52 539.64,24.70 539.73,25.07 539.83,25.64 539.92,26.39 540.01,27.33 540.11,28.44 540.20,29.73 540.29,31.17 540.38,32.77 540.48,34.51 540.57,36.39 540.66,38.38 540.76,40.49 540.85,42.69 540.94,44.97 541.04,47.32 541.13,49.73 541.22,52.17 541.31,54.64 541.41,57.11 541.50,59.58" fill="none" stroke="#1f9bdc" stroke-width="1.15" stroke-linejoin="round"/>
<text transform="translate(76.20,103.60) scale(0.715,1)" font-size="12.7" stroke="#161616" stroke-width="0.3" text-anchor="middle" fill="#161616">0</text>
<text transform="translate(150.60,103.60) scale(0.715,1)" font-size="12.7" stroke="#161616" stroke-width="0.3" text-anchor="middle" fill="#161616">200</text>
<text transform="translate(225.00,103.60) scale(0.715,1)" font-size="12.7" stroke="#161616" stroke-width="0.3" text-anchor="middle" fill="#161616">400</text>
<text transform="translate(299.40,103.60) scale(0.715,1)" font-size="12.7" stroke="#161616" stroke-width="0.3" text-anchor="middle" fill="#161616">600</text>
<text transform="translate(373.80,103.60) scale(0.715,1)" font-size="12.7" stroke="#161616" stroke-width="0.3" text-anchor="middle" fill="#161616">800</text>
<text transform="translate(448.20,103.60) scale(0.715,1)" font-size="12.7" stroke="#161616" stroke-width="0.3" text-anchor="middle" fill="#161616">1000</text>
<text transform="translate(522.60,103.60) scale(0.715,1)" font-size="12.7" stroke="#161616" stroke-width="0.3" text-anchor="middle" fill="#161616">1200</text>
<text transform="translate(73.20,80.18) scale(0.715,1)" font-size="12.7" stroke="#161616" stroke-width="0.3" text-anchor="end" fill="#161616">-200</text>
<text transform="translate(73.20,60.80) scale(0.715,1)" font-size="12.7" stroke="#161616" stroke-width="0.3" text-anchor="end" fill="#161616">0</text>
<text transform="translate(73.20,41.42) scale(0.715,1)" font-size="12.7" stroke="#161616" stroke-width="0.3" text-anchor="end" fill="#161616">200</text>
<text transform="translate(308.80,17.80) scale(0.692,1)" font-size="14.5" font-weight="bold" stroke="#000" stroke-width="0.45" text-anchor="middle" fill="#000">Voltage signal</text>
<text transform="translate(308.80,121.00) scale(0.652,1)" font-size="15.2" stroke="#242424" stroke-width="0.2" text-anchor="middle" fill="#242424">Time (ms)</text>
<text transform="translate(51.80,57.20) rotate(-90) scale(1,0.78)" font-size="13.6" stroke="#262626" stroke-width="0.15" text-anchor="middle" fill="#262626">Voltage (V)</text>
<rect x="76.8" y="145.4" width="465.2" height="62.900000000000006" fill="#4321ad"/>
<defs>
<linearGradient id="gl" x1="0" y1="0" x2="0" y2="1"><stop offset="0" stop-color="#3a24b4" stop-opacity="0"/><stop offset="0.12" stop-color="#3328b4" stop-opacity="0.6"/><stop offset="0.21" stop-color="#2c44b8"/><stop offset="0.28" stop-color="#2f8f8e"/><stop offset="0.34" stop-color="#8cc44c"/><stop offset="0.41" stop-color="#dcd426"/><stop offset="0.59" stop-color="#dcd426"/><stop offset="0.66" stop-color="#8cc44c"/><stop offset="0.72" stop-color="#2f8f8e"/><stop offset="0.79" stop-color="#2c44b8"/><stop offset="0.88" stop-color="#3328b4" stop-opacity="0.6"/><stop offset="1" stop-color="#3a24b4" stop-opacity="0"/></linearGradient>
<linearGradient id="gM" x1="0" y1="0" x2="0" y2="1"><stop offset="0" stop-color="#4458f0" stop-opacity="0"/><stop offset="0.08" stop-color="#4468f6" stop-opacity="0.7"/><stop offset="0.22" stop-color="#3488f6" stop-opacity="1"/><stop offset="0.38" stop-color="#24b0e4" stop-opacity="1"/><stop offset="0.5" stop-color="#3fd0b0" stop-opacity="1"/><stop offset="0.62" stop-color="#24b0e4" stop-opacity="1"/><stop offset="0.78" stop-color="#3488f6" stop-opacity="1"/><stop offset="0.92" stop-color="#4468f6" stop-opacity="0.7"/><stop offset="1" stop-color="#4458f0" stop-opacity="0"/></linearGradient>
<linearGradient id="gL" x1="0" y1="0" x2="0" y2="1"><stop offset="0" stop-color="#4458f0" stop-opacity="0"/><stop offset="0.1" stop-color="#4464f4" stop-opacity="0.65"/><stop offset="0.26" stop-color="#3a80f8" stop-opacity="1"/><stop offset="0.5" stop-color="#2ca6ec" stop-opacity="1"/><stop offset="0.74" stop-color="#3a80f8" stop-opacity="1"/><stop offset="0.9" stop-color="#4464f4" stop-opacity="0.65"/><stop offset="1" stop-color="#4458f0" stop-opacity="0"/></linearGradient>
<linearGradient id="gR" x1="0" y1="0" x2="0" y2="1"><stop offset="0" stop-color="#4458f0" stop-opacity="0"/><stop offset="0.1" stop-color="#4560f4" stop-opacity="0.55"/><stop offset="0.26" stop-color="#3f78f8" stop-opacity="0.95"/><stop offset="0.5" stop-color="#329cf0" stop-opacity="1"/><stop offset="0.74" stop-color="#3f78f8" stop-opacity="0.95"/><stop offset="0.9" stop-color="#4560f4" stop-opacity="0.55"/><stop offset="1" stop-color="#4458f0" stop-opacity="0"/></linearGradient>
<filter id="bl" x="-60%" y="-10%" width="220%" height="120%"><feGaussianBlur stdDeviation="0.75 1.0"/></filter>
</defs>
<clipPath id="c2"><rect x="76.8" y="145.4" width="465.2" height="62.900000000000006"/></clipPath>
<g clip-path="url(#c2)"><g filter="url(#bl)">
<rect x="351.50" y="149.50" width="4.00" height="54.50" fill="url(#gR)" opacity="1"/>
<rect x="346.50" y="155.00" width="5.00" height="47.00" fill="url(#gL)" opacity="1"/>
<rect x="348.80" y="157.00" width="4.40" height="41.00" fill="url(#gM)" opacity="1"/>
<rect x="441.00" y="149.50" width="4.00" height="54.50" fill="url(#gR)" opacity="1"/>
<rect x="436.00" y="155.00" width="5.00" height="47.00" fill="url(#gL)" opacity="1"/>
<rect x="438.30" y="157.00" width="4.40" height="41.00" fill="url(#gM)" opacity="1"/>
<rect x="414.40" y="158.50" width="3.40" height="35.50" fill="url(#gM)" opacity="0.95"/>
<rect x="504.30" y="161.00" width="3.60" height="30.50" fill="url(#gM)" opacity="0.85"/>
<rect x="144.20" y="171.60" width="3.60" height="10.40" fill="url(#gL)" opacity="0.9"/>
</g>
<rect x="76.8" y="173.90" width="465.2" height="5.8" fill="url(#gl)"/>
</g>
<line x1="150.00" y1="208.3" x2="150.00" y2="204.3" stroke="#3f20a8" stroke-width="0.75"/>
<line x1="150.00" y1="145.4" x2="150.00" y2="149.4" stroke="#3f20a8" stroke-width="0.75"/>
<line x1="224.80" y1="208.3" x2="224.80" y2="204.3" stroke="#3f20a8" stroke-width="0.75"/>
<line x1="224.80" y1="145.4" x2="224.80" y2="149.4" stroke="#3f20a8" stroke-width="0.75"/>
<line x1="299.60" y1="208.3" x2="299.60" y2="204.3" stroke="#3f20a8" stroke-width="0.75"/>
<line x1="299.60" y1="145.4" x2="299.60" y2="149.4" stroke="#3f20a8" stroke-width="0.75"/>
<line x1="374.40" y1="208.3" x2="374.40" y2="204.3" stroke="#3f20a8" stroke-width="0.75"/>
<line x1="374.40" y1="145.4" x2="374.40" y2="149.4" stroke="#3f20a8" stroke-width="0.75"/>
<line x1="449.20" y1="208.3" x2="449.20" y2="204.3" stroke="#3f20a8" stroke-width="0.75"/>
<line x1="449.20" y1="145.4" x2="449.20" y2="149.4" stroke="#3f20a8" stroke-width="0.75"/>
<line x1="524.00" y1="208.3" x2="524.00" y2="204.3" stroke="#3f20a8" stroke-width="0.75"/>
<line x1="524.00" y1="145.4" x2="524.00" y2="149.4" stroke="#3f20a8" stroke-width="0.75"/>
<line x1="76.8" y1="192.40" x2="80.8" y2="192.40" stroke="#3f20a8" stroke-width="0.75"/>
<line x1="542.0" y1="192.40" x2="538.0" y2="192.40" stroke="#3f20a8" stroke-width="0.75"/>
<line x1="76.8" y1="161.20" x2="80.8" y2="161.20" stroke="#3f20a8" stroke-width="0.75"/>
<line x1="542.0" y1="161.20" x2="538.0" y2="161.20" stroke="#3f20a8" stroke-width="0.75"/>
<text transform="translate(149.70,224.50) scale(0.715,1)" font-size="12.7" stroke="#161616" stroke-width="0.3" text-anchor="middle" fill="#161616">0.2</text>
<text transform="translate(224.50,224.50) scale(0.715,1)" font-size="12.7" stroke="#161616" stroke-width="0.3" text-anchor="middle" fill="#161616">0.4</text>
<text transform="translate(299.30,224.50) scale(0.715,1)" font-size="12.7" stroke="#161616" stroke-width="0.3" text-anchor="middle" fill="#161616">0.6</text>
<text transform="translate(374.10,224.50) scale(0.715,1)" font-size="12.7" stroke="#161616" stroke-width="0.3" text-anchor="middle" fill="#161616">0.8</text>
<text transform="translate(448.90,224.50) scale(0.715,1)" font-size="12.7" stroke="#161616" stroke-width="0.3" text-anchor="middle" fill="#161616">1</text>
<text transform="translate(523.70,224.50) scale(0.715,1)" font-size="12.7" stroke="#161616" stroke-width="0.3" text-anchor="middle" fill="#161616">1.2</text>
<text transform="translate(73.50,197.20) scale(0.715,1)" font-size="12.7" stroke="#161616" stroke-width="0.3" text-anchor="end" fill="#161616">-2</text>
<text transform="translate(73.50,181.60) scale(0.715,1)" font-size="12.7" stroke="#161616" stroke-width="0.3" text-anchor="end" fill="#161616">0</text>
<text transform="translate(73.50,166.00) scale(0.715,1)" font-size="12.7" stroke="#161616" stroke-width="0.3" text-anchor="end" fill="#161616">2</text>
<text transform="translate(73.50,150.40) scale(0.715,1)" font-size="12.7" stroke="#161616" stroke-width="0.3" text-anchor="end" fill="#161616">4</text>
<text transform="translate(308.80,139.00) scale(0.692,1)" font-size="14.5" font-weight="bold" stroke="#000" stroke-width="0.45" text-anchor="middle" fill="#000">Short Time Fourier Transform</text>
<text transform="translate(308.80,242.20) scale(0.652,1)" font-size="15.2" stroke="#242424" stroke-width="0.2" text-anchor="middle" fill="#242424">Time (s)</text>
<text transform="translate(61.80,177.85) rotate(-90) scale(1,0.78)" font-size="13.5" stroke="#262626" stroke-width="0.15" text-anchor="middle" fill="#262626">Fequency (kHz)</text>
<rect x="76.5" y="266.2" width="465.0" height="63.30000000000001" fill="#fff"/>
<line x1="94.38" y1="266.2" x2="94.38" y2="329.5" stroke="#f0f0f0" stroke-width="0.8"/>
<line x1="130.15" y1="266.2" x2="130.15" y2="329.5" stroke="#f0f0f0" stroke-width="0.8"/>
<line x1="165.92" y1="266.2" x2="165.92" y2="329.5" stroke="#f0f0f0" stroke-width="0.8"/>
<line x1="201.69" y1="266.2" x2="201.69" y2="329.5" stroke="#f0f0f0" stroke-width="0.8"/>
<line x1="237.46" y1="266.2" x2="237.46" y2="329.5" stroke="#f0f0f0" stroke-width="0.8"/>
<line x1="273.23" y1="266.2" x2="273.23" y2="329.5" stroke="#f0f0f0" stroke-width="0.8"/>
<line x1="309.00" y1="266.2" x2="309.00" y2="329.5" stroke="#f0f0f0" stroke-width="0.8"/>
<line x1="344.77" y1="266.2" x2="344.77" y2="329.5" stroke="#f0f0f0" stroke-width="0.8"/>
<line x1="380.54" y1="266.2" x2="380.54" y2="329.5" stroke="#f0f0f0" stroke-width="0.8"/>
<line x1="416.31" y1="266.2" x2="416.31" y2="329.5" stroke="#f0f0f0" stroke-width="0.8"/>
<line x1="452.08" y1="266.2" x2="452.08" y2="329.5" stroke="#f0f0f0" stroke-width="0.8"/>
<line x1="487.85" y1="266.2" x2="487.85" y2="329.5" stroke="#f0f0f0" stroke-width="0.8"/>
<line x1="523.62" y1="266.2" x2="523.62" y2="329.5" stroke="#f0f0f0" stroke-width="0.8"/>
<line x1="76.5" y1="324.23" x2="541.5" y2="324.23" stroke="#f0f0f0" stroke-width="0.8"/>
<line x1="76.5" y1="313.68" x2="541.5" y2="313.68" stroke="#f0f0f0" stroke-width="0.8"/>
<line x1="76.5" y1="303.12" x2="541.5" y2="303.12" stroke="#f0f0f0" stroke-width="0.8"/>
<line x1="76.5" y1="292.57" x2="541.5" y2="292.57" stroke="#f0f0f0" stroke-width="0.8"/>
<line x1="76.5" y1="282.02" x2="541.5" y2="282.02" stroke="#f0f0f0" stroke-width="0.8"/>
<line x1="76.5" y1="271.48" x2="541.5" y2="271.48" stroke="#f0f0f0" stroke-width="0.8"/>
<line x1="94.38" y1="329.5" x2="94.38" y2="324.0" stroke="#b0b0b0" stroke-width="0.75"/>
<line x1="94.38" y1="266.2" x2="94.38" y2="271.7" stroke="#b0b0b0" stroke-width="0.75"/>
<line x1="130.15" y1="329.5" x2="130.15" y2="324.0" stroke="#b0b0b0" stroke-width="0.75"/>
<line x1="130.15" y1="266.2" x2="130.15" y2="271.7" stroke="#b0b0b0" stroke-width="0.75"/>
<line x1="165.92" y1="329.5" x2="165.92" y2="324.0" stroke="#b0b0b0" stroke-width="0.75"/>
<line x1="165.92" y1="266.2" x2="165.92" y2="271.7" stroke="#b0b0b0" stroke-width="0.75"/>
<line x1="201.69" y1="329.5" x2="201.69" y2="324.0" stroke="#b0b0b0" stroke-width="0.75"/>
<line x1="201.69" y1="266.2" x2="201.69" y2="271.7" stroke="#b0b0b0" stroke-width="0.75"/>
<line x1="237.46" y1="329.5" x2="237.46" y2="324.0" stroke="#b0b0b0" stroke-width="0.75"/>
<line x1="237.46" y1="266.2" x2="237.46" y2="271.7" stroke="#b0b0b0" stroke-width="0.75"/>
<line x1="273.23" y1="329.5" x2="273.23" y2="324.0" stroke="#b0b0b0" stroke-width="0.75"/>
<line x1="273.23" y1="266.2" x2="273.23" y2="271.7" stroke="#b0b0b0" stroke-width="0.75"/>
<line x1="309.00" y1="329.5" x2="309.00" y2="324.0" stroke="#b0b0b0" stroke-width="0.75"/>
<line x1="309.00" y1="266.2" x2="309.00" y2="271.7" stroke="#b0b0b0" stroke-width="0.75"/>
<line x1="344.77" y1="329.5" x2="344.77" y2="324.0" stroke="#b0b0b0" stroke-width="0.75"/>
<line x1="344.77" y1="266.2" x2="344.77" y2="271.7" stroke="#b0b0b0" stroke-width="0.75"/>
<line x1="380.54" y1="329.5" x2="380.54" y2="324.0" stroke="#b0b0b0" stroke-width="0.75"/>
<line x1="380.54" y1="266.2" x2="380.54" y2="271.7" stroke="#b0b0b0" stroke-width="0.75"/>
<line x1="416.31" y1="329.5" x2="416.31" y2="324.0" stroke="#b0b0b0" stroke-width="0.75"/>
<line x1="416.31" y1="266.2" x2="416.31" y2="271.7" stroke="#b0b0b0" stroke-width="0.75"/>
<line x1="452.08" y1="329.5" x2="452.08" y2="324.0" stroke="#b0b0b0" stroke-width="0.75"/>
<line x1="452.08" y1="266.2" x2="452.08" y2="271.7" stroke="#b0b0b0" stroke-width="0.75"/>
<line x1="487.85" y1="329.5" x2="487.85" y2="324.0" stroke="#b0b0b0" stroke-width="0.75"/>
<line x1="487.85" y1="266.2" x2="487.85" y2="271.7" stroke="#b0b0b0" stroke-width="0.75"/>
<line x1="523.62" y1="329.5" x2="523.62" y2="324.0" stroke="#b0b0b0" stroke-width="0.75"/>
<line x1="523.62" y1="266.2" x2="523.62" y2="271.7" stroke="#b0b0b0" stroke-width="0.75"/>
<line x1="76.5" y1="324.23" x2="82.0" y2="324.23" stroke="#b0b0b0" stroke-width="0.75"/>
<line x1="541.5" y1="324.23" x2="536.0" y2="324.23" stroke="#b0b0b0" stroke-width="0.75"/>
<line x1="76.5" y1="313.68" x2="82.0" y2="313.68" stroke="#b0b0b0" stroke-width="0.75"/>
<line x1="541.5" y1="313.68" x2="536.0" y2="313.68" stroke="#b0b0b0" stroke-width="0.75"/>
<line x1="76.5" y1="303.12" x2="82.0" y2="303.12" stroke="#b0b0b0" stroke-width="0.75"/>
<line x1="541.5" y1="303.12" x2="536.0" y2="303.12" stroke="#b0b0b0" stroke-width="0.75"/>
<line x1="76.5" y1="292.57" x2="82.0" y2="292.57" stroke="#b0b0b0" stroke-width="0.75"/>
<line x1="541.5" y1="292.57" x2="536.0" y2="292.57" stroke="#b0b0b0" stroke-width="0.75"/>
<line x1="76.5" y1="282.02" x2="82.0" y2="282.02" stroke="#b0b0b0" stroke-width="0.75"/>
<line x1="541.5" y1="282.02" x2="536.0" y2="282.02" stroke="#b0b0b0" stroke-width="0.75"/>
<line x1="76.5" y1="271.48" x2="82.0" y2="271.48" stroke="#b0b0b0" stroke-width="0.75"/>
<line x1="541.5" y1="271.48" x2="536.0" y2="271.48" stroke="#b0b0b0" stroke-width="0.75"/>
<rect x="76.5" y="266.2" width="465.0" height="63.30000000000001" fill="none" stroke="#b0b0b0" stroke-width="1"/>
<polyline points="76.50,313.68 94.38,313.68 112.27,313.68 130.15,313.68 148.04,313.68 165.92,313.68 183.81,313.68 201.69,313.68 219.58,313.68 237.46,313.68 255.35,313.68 273.23,313.68 291.12,313.68 309.00,313.68 326.88,313.68 344.77,292.57 362.65,324.23 380.54,324.23 398.42,324.23 416.31,313.68 434.19,313.68 452.08,324.23 469.96,324.23 487.85,324.23 505.73,324.23 523.62,324.23 541.50,324.23" fill="none" stroke="#1f9bdc" stroke-width="1.35" stroke-linejoin="round"/>
<text transform="translate(94.08,345.50) scale(0.715,1)" font-size="12.7" stroke="#161616" stroke-width="0.3" text-anchor="middle" fill="#161616">2</text>
<text transform="translate(129.85,345.50) scale(0.715,1)" font-size="12.7" stroke="#161616" stroke-width="0.3" text-anchor="middle" fill="#161616">4</text>
<text transform="translate(165.62,345.50) scale(0.715,1)" font-size="12.7" stroke="#161616" stroke-width="0.3" text-anchor="middle" fill="#161616">6</text>
<text transform="translate(201.39,345.50) scale(0.715,1)" font-size="12.7" stroke="#161616" stroke-width="0.3" text-anchor="middle" fill="#161616">8</text>
<text transform="translate(237.16,345.50) scale(0.715,1)" font-size="12.7" stroke="#161616" stroke-width="0.3" text-anchor="middle" fill="#161616">10</text>
<text transform="translate(272.93,345.50) scale(0.715,1)" font-size="12.7" stroke="#161616" stroke-width="0.3" text-anchor="middle" fill="#161616">12</text>
<text transform="translate(308.70,345.50) scale(0.715,1)" font-size="12.7" stroke="#161616" stroke-width="0.3" text-anchor="middle" fill="#161616">14</text>
<text transform="translate(344.47,345.50) scale(0.715,1)" font-size="12.7" stroke="#161616" stroke-width="0.3" text-anchor="middle" fill="#161616">16</text>
<text transform="translate(380.24,345.50) scale(0.715,1)" font-size="12.7" stroke="#161616" stroke-width="0.3" text-anchor="middle" fill="#161616">18</text>
<text transform="translate(416.01,345.50) scale(0.715,1)" font-size="12.7" stroke="#161616" stroke-width="0.3" text-anchor="middle" fill="#161616">20</text>
<text transform="translate(451.78,345.50) scale(0.715,1)" font-size="12.7" stroke="#161616" stroke-width="0.3" text-anchor="middle" fill="#161616">22</text>
<text transform="translate(487.55,345.50) scale(0.715,1)" font-size="12.7" stroke="#161616" stroke-width="0.3" text-anchor="middle" fill="#161616">24</text>
<text transform="translate(523.32,345.50) scale(0.715,1)" font-size="12.7" stroke="#161616" stroke-width="0.3" text-anchor="middle" fill="#161616">26</text>
<text transform="translate(73.20,329.03) scale(0.715,1)" font-size="12.7" stroke="#161616" stroke-width="0.3" text-anchor="end" fill="#161616">0-Normal</text>
<text transform="translate(73.20,318.48) scale(0.715,1)" font-size="12.7" stroke="#161616" stroke-width="0.3" text-anchor="end" fill="#161616">1-Sag</text>
<text transform="translate(73.20,307.93) scale(0.715,1)" font-size="12.7" stroke="#161616" stroke-width="0.3" text-anchor="end" fill="#161616">2-Swell</text>
<text transform="translate(73.20,297.38) scale(0.715,1)" font-size="12.7" stroke="#161616" stroke-width="0.3" text-anchor="end" fill="#161616">3-Harmonics</text>
<text transform="translate(73.20,286.82) scale(0.715,1)" font-size="12.7" stroke="#161616" stroke-width="0.3" text-anchor="end" fill="#161616">4-Notch</text>
<text transform="translate(73.20,276.28) scale(0.715,1)" font-size="12.7" stroke="#161616" stroke-width="0.3" text-anchor="end" fill="#161616">5-Interruption</text>
<text transform="translate(309.00,260.20) scale(0.692,1)" font-size="14.5" font-weight="bold" stroke="#000" stroke-width="0.45" text-anchor="middle" fill="#000">CNN-STFT Classification</text>
<text transform="translate(17.00,298.15) rotate(-90) scale(1,0.86)" font-size="12.6" stroke="#2a2a2a" stroke-width="0.15" text-anchor="middle" fill="#2a2a2a">Class</text>
</svg>
</body></html>
